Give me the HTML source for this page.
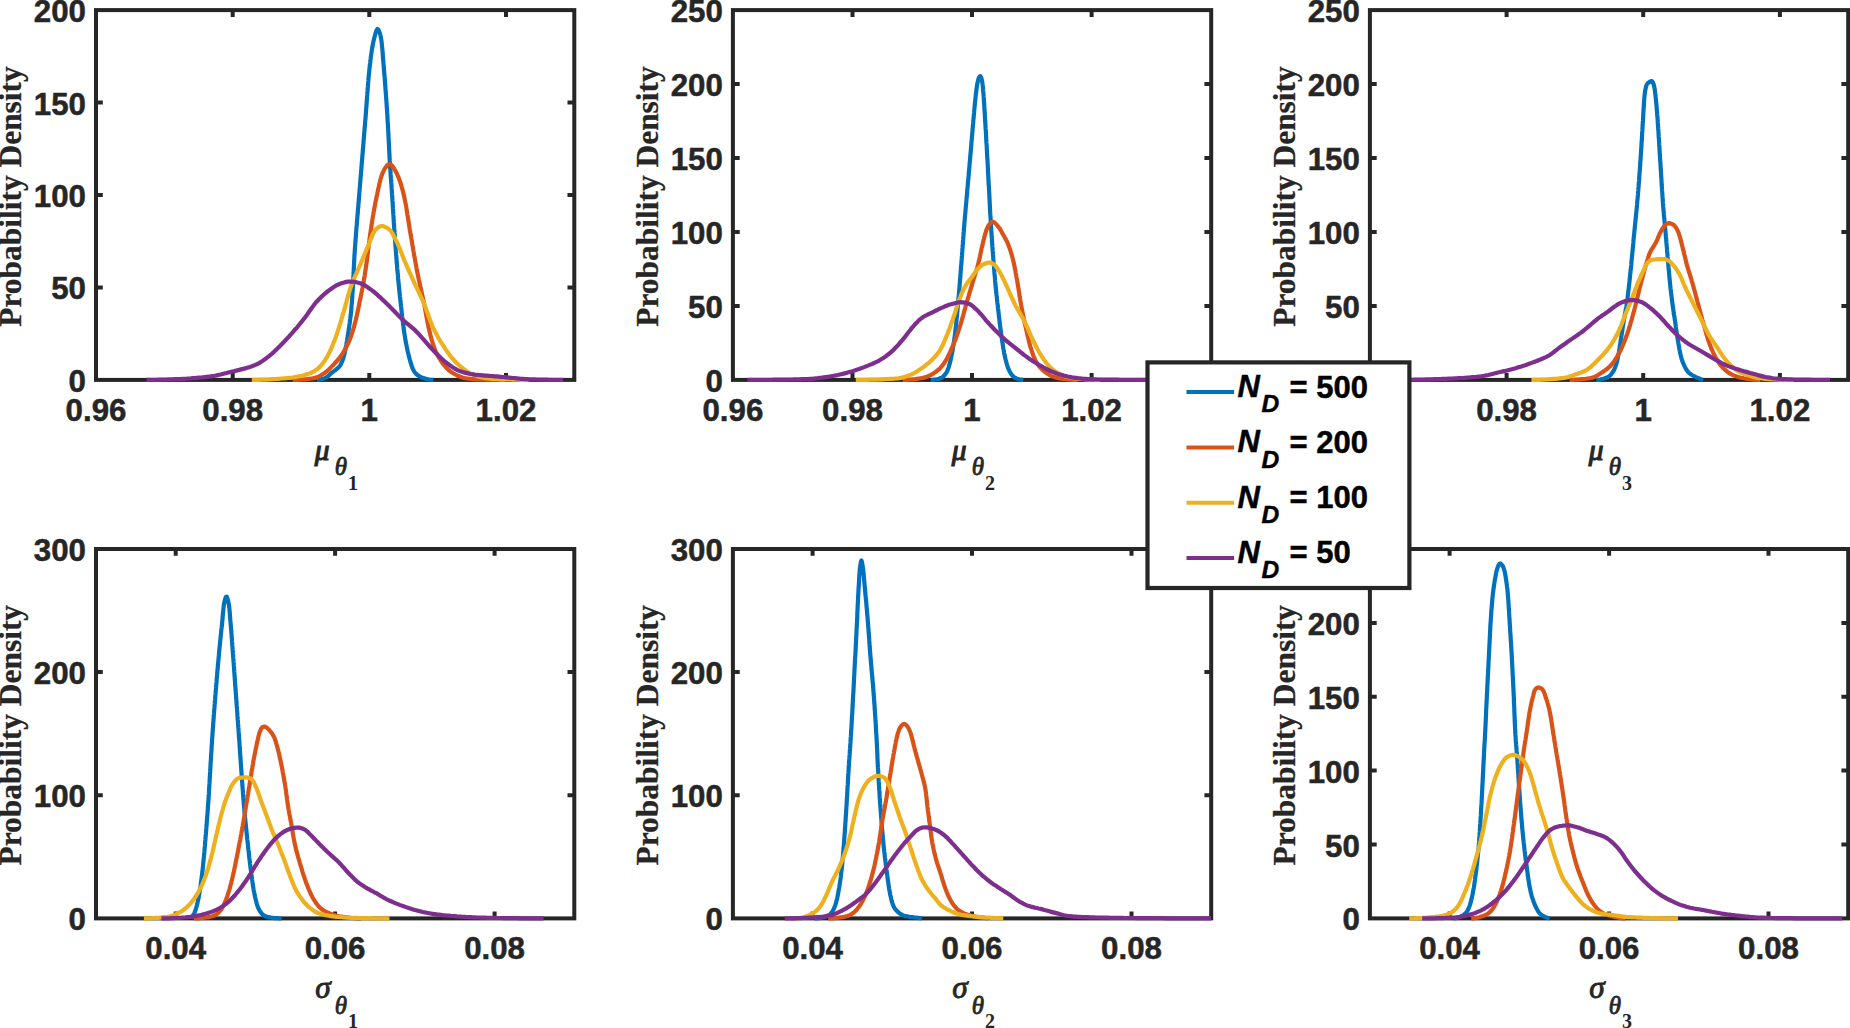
<!DOCTYPE html>
<html lang="en"><head><meta charset="utf-8"><title>Posterior probability densities</title>
<style>html,body{margin:0;padding:0;background:#fff}body{width:1850px;height:1028px;overflow:hidden}svg{display:block}</style>
</head><body>
<svg width="1850" height="1028" viewBox="0 0 1850 1028">
<rect width="1850" height="1028" fill="#fff"/>
<g id="panel1">
<rect x="96.0" y="10.1" width="478.3" height="369.8" fill="#fff" stroke="#262626" stroke-width="4.0"/>
<path d="M232.7 379.9v-6.8M232.7 10.1v6.8M369.3 379.9v-6.8M369.3 10.1v6.8M506.0 379.9v-6.8M506.0 10.1v6.8M96.0 287.4h6.8M574.3 287.4h-6.8M96.0 195.0h6.8M574.3 195.0h-6.8M96.0 102.6h6.8M574.3 102.6h-6.8" stroke="#262626" stroke-width="4.0" fill="none"/>
<g font-family="Liberation Sans, sans-serif" font-weight="bold" font-size="31.25" fill="#262626" stroke="#262626" stroke-width="0.5">
<text x="96.0" y="420.6" text-anchor="middle">0.96</text>
<text x="232.7" y="420.6" text-anchor="middle">0.98</text>
<text x="369.3" y="420.6" text-anchor="middle">1</text>
<text x="506.0" y="420.6" text-anchor="middle">1.02</text>
<text x="85.9" y="391.9" text-anchor="end">0</text>
<text x="85.9" y="299.4" text-anchor="end">50</text>
<text x="85.9" y="207.0" text-anchor="end">100</text>
<text x="85.9" y="114.6" text-anchor="end">150</text>
<text x="85.9" y="22.1" text-anchor="end">200</text>
</g>
<text transform="translate(21.3 196.5) rotate(-90)" text-anchor="middle" font-family="Liberation Serif, serif" font-weight="bold" font-size="31.45" fill="#262626" stroke="#262626" stroke-width="0.25">Probability Density</text>
<text font-family="Liberation Serif, serif" fill="#262626"><tspan x="314.8" y="459.9" font-size="29.3" font-style="italic" stroke="#262626" stroke-width="1.2">μ</tspan><tspan x="334.8" y="475.1" font-size="25" font-style="italic" stroke="#262626" stroke-width="0.8">θ</tspan><tspan x="348.0" y="489.5" font-size="20" font-weight="bold">1</tspan></text>
<path d="M316.9 379.9 319.0 379.7 321.1 379.3 323.0 378.8 324.8 378.1 326.5 377.3 328.1 376.1 329.6 374.7 331.1 373.3 332.7 372.1 334.3 370.9 335.9 369.7 337.5 368.4 339.0 367.0 340.2 365.5 341.1 363.8 341.9 361.9 342.7 360.0 343.3 358.1 343.9 356.1 344.4 354.2 344.8 352.3 345.3 350.3 345.7 348.3 346.0 346.3 346.4 344.3 346.7 342.4 347.1 340.4 347.4 338.4 347.7 336.4 348.0 334.5 348.3 332.5 348.6 330.5 348.9 328.5 349.2 326.5 349.5 324.5 349.8 322.5 350.0 320.5 350.3 318.5 350.5 316.5 350.8 314.6 351.0 312.6 351.2 310.6 351.4 308.6 351.5 306.6 351.7 304.6 351.9 302.6 352.0 300.6 352.2 298.6 352.3 296.6 352.4 294.6 352.5 292.6 352.7 290.6 352.8 288.6 352.9 286.6 353.0 284.6 353.1 282.6 353.2 280.6 353.3 278.5 353.4 276.5 353.5 274.5 353.6 272.5 353.7 270.5 353.8 268.5 353.9 266.5 354.0 264.5 354.1 262.5 354.2 260.5 354.3 258.5 354.4 256.5 354.5 254.5 354.7 252.5 354.8 250.5 354.9 248.5 355.1 246.5 355.2 244.5 355.4 242.5 355.5 240.5 355.7 238.5 355.8 236.5 356.0 234.5 356.1 232.5 356.3 230.5 356.4 228.5 356.6 226.5 356.8 224.5 356.9 222.5 357.1 220.5 357.3 218.5 357.4 216.5 357.6 214.5 357.8 212.5 357.9 210.5 358.1 208.5 358.3 206.5 358.4 204.5 358.6 202.5 358.8 200.5 358.9 198.5 359.1 196.5 359.2 194.5 359.4 192.5 359.6 190.5 359.7 188.5 359.9 186.5 360.0 184.5 360.2 182.5 360.4 180.5 360.5 178.5 360.7 176.5 360.9 174.5 361.0 172.5 361.2 170.5 361.4 168.5 361.5 166.5 361.7 164.5 361.8 162.5 362.0 160.5 362.2 158.5 362.3 156.5 362.5 154.5 362.7 152.5 362.8 150.5 363.0 148.5 363.2 146.5 363.3 144.5 363.5 142.5 363.6 140.5 363.8 138.5 364.0 136.5 364.1 134.5 364.3 132.5 364.5 130.5 364.6 128.5 364.8 126.5 365.0 124.5 365.1 122.5 365.3 120.5 365.5 118.5 365.6 116.5 365.8 114.5 365.9 112.5 366.1 110.5 366.2 108.5 366.4 106.5 366.5 104.5 366.7 102.5 366.8 100.5 367.0 98.5 367.1 96.5 367.3 94.4 367.4 92.4 367.6 90.4 367.7 88.4 367.9 86.4 368.0 84.4 368.2 82.4 368.4 80.4 368.5 78.4 368.7 76.4 368.9 74.4 369.1 72.5 369.3 70.5 369.5 68.5 369.7 66.5 369.9 64.5 370.2 62.5 370.4 60.5 370.7 58.5 370.9 56.5 371.2 54.5 371.5 52.5 371.8 50.5 372.1 48.5 372.5 46.5 372.8 44.6 373.2 42.6 373.6 40.6 374.1 38.7 374.6 36.8 375.2 34.5 375.9 32.0 376.7 30.0 377.5 29.0 378.3 29.5 379.1 31.3 380.0 33.7 380.6 36.1 381.0 38.0 381.3 40.0 381.6 41.9 381.8 43.9 382.0 45.9 382.2 47.9 382.4 49.9 382.6 51.9 382.7 54.0 382.9 56.0 383.0 58.0 383.2 60.0 383.3 62.0 383.5 64.0 383.7 66.0 383.8 68.0 384.0 70.0 384.2 72.0 384.3 74.0 384.5 76.0 384.7 78.0 384.8 80.0 385.0 82.0 385.1 84.0 385.3 86.0 385.4 88.0 385.6 90.0 385.7 92.0 385.9 94.1 386.0 96.1 386.2 98.1 386.3 100.1 386.5 102.1 386.6 104.1 386.7 106.1 386.9 108.1 387.0 110.1 387.1 112.1 387.3 114.1 387.4 116.1 387.5 118.1 387.6 120.1 387.7 122.1 387.9 124.1 388.0 126.1 388.1 128.1 388.2 130.1 388.3 132.1 388.4 134.1 388.5 136.1 388.6 138.1 388.7 140.1 388.8 142.1 388.9 144.1 389.0 146.1 389.1 148.1 389.2 150.1 389.3 152.1 389.4 154.1 389.5 156.1 389.6 158.2 389.7 160.2 389.9 162.2 390.0 164.2 390.1 166.2 390.2 168.2 390.4 170.2 390.5 172.2 390.6 174.2 390.8 176.2 390.9 178.2 391.1 180.2 391.2 182.2 391.4 184.2 391.5 186.2 391.6 188.2 391.8 190.2 391.9 192.2 392.0 194.2 392.2 196.2 392.3 198.2 392.4 200.2 392.6 202.2 392.7 204.2 392.8 206.2 392.9 208.2 393.1 210.2 393.2 212.2 393.3 214.2 393.5 216.2 393.6 218.2 393.7 220.2 393.8 222.2 394.0 224.2 394.1 226.2 394.2 228.2 394.4 230.2 394.5 232.2 394.7 234.2 394.8 236.2 394.9 238.2 395.1 240.2 395.2 242.2 395.4 244.2 395.5 246.2 395.7 248.2 395.8 250.2 396.0 252.2 396.1 254.2 396.3 256.3 396.4 258.3 396.6 260.3 396.7 262.3 396.9 264.3 397.1 266.3 397.2 268.2 397.4 270.2 397.6 272.2 397.8 274.2 398.0 276.2 398.1 278.2 398.3 280.2 398.5 282.2 398.7 284.2 398.9 286.2 399.1 288.2 399.3 290.2 399.5 292.2 399.7 294.2 399.9 296.2 400.2 298.2 400.4 300.2 400.6 302.2 400.8 304.2 401.0 306.2 401.3 308.2 401.5 310.2 401.7 312.2 401.9 314.2 402.1 316.2 402.4 318.2 402.6 320.2 402.9 322.1 403.1 324.1 403.4 326.1 403.6 328.1 403.9 330.1 404.2 332.1 404.5 334.1 404.8 336.0 405.1 338.0 405.4 340.0 405.8 342.0 406.2 344.0 406.6 345.9 407.0 347.9 407.4 349.9 407.8 351.8 408.3 353.8 408.8 355.7 409.3 357.7 409.8 359.6 410.4 361.6 411.0 363.7 411.6 365.7 412.3 367.6 413.1 369.5 414.0 371.1 415.0 372.6 416.3 374.0 417.9 375.3 419.7 376.5 421.6 377.4 423.4 378.0 425.2 378.6 427.2 379.1 429.1 379.5 431.2 379.8 433.3 379.9" fill="none" stroke="#0072BD" stroke-width="4.2" stroke-linejoin="round"/>
<path d="M292.8 379.9 294.9 379.9 297.0 379.8 299.1 379.7 301.1 379.6 303.1 379.5 305.1 379.3 307.1 379.1 309.1 378.8 311.0 378.5 312.9 378.3 314.8 377.9 316.7 377.4 318.5 376.6 320.4 375.7 322.1 374.6 323.8 373.5 325.4 372.4 327.0 371.1 328.5 369.8 330.0 368.4 331.4 366.9 332.8 365.4 334.2 364.0 335.5 362.5 336.9 361.0 338.2 359.5 339.5 357.9 340.7 356.3 341.9 354.7 342.9 353.0 343.9 351.3 344.9 349.6 345.9 347.8 346.8 346.0 347.7 344.2 348.6 342.3 349.4 340.5 350.2 338.6 350.9 336.7 351.5 334.9 352.1 333.0 352.7 331.1 353.3 329.2 353.9 327.3 354.4 325.3 354.9 323.4 355.4 321.4 355.9 319.5 356.3 317.5 356.8 315.5 357.2 313.6 357.7 311.6 358.1 309.6 358.5 307.6 358.9 305.7 359.3 303.7 359.7 301.7 360.1 299.7 360.5 297.8 360.9 295.8 361.3 293.8 361.7 291.9 362.1 289.9 362.5 287.9 362.8 286.0 363.2 284.0 363.6 282.0 363.9 280.0 364.2 278.0 364.6 276.1 364.9 274.1 365.2 272.1 365.5 270.1 365.8 268.1 366.1 266.1 366.4 264.1 366.7 262.2 366.9 260.2 367.2 258.2 367.4 256.2 367.7 254.2 367.9 252.2 368.1 250.2 368.4 248.2 368.6 246.2 368.9 244.2 369.1 242.2 369.4 240.2 369.6 238.2 369.9 236.2 370.2 234.3 370.5 232.3 370.8 230.3 371.1 228.3 371.4 226.3 371.7 224.3 372.0 222.3 372.3 220.4 372.6 218.4 372.9 216.4 373.3 214.4 373.6 212.4 374.0 210.4 374.3 208.5 374.7 206.5 375.1 204.5 375.4 202.5 375.8 200.6 376.2 198.6 376.6 196.6 377.1 194.7 377.5 192.7 377.9 190.7 378.3 188.7 378.8 186.7 379.2 184.6 379.7 182.6 380.2 180.6 380.7 178.6 381.3 176.7 381.9 174.8 382.6 173.0 383.4 171.3 384.2 169.6 385.4 167.7 386.8 165.8 388.3 164.4 389.7 164.0 391.1 164.7 392.5 166.2 393.8 168.1 395.0 170.2 396.0 172.1 396.9 173.8 397.7 175.6 398.5 177.4 399.2 179.3 399.9 181.2 400.6 183.1 401.2 185.1 401.7 187.0 402.3 189.0 402.8 191.0 403.3 193.0 403.8 194.9 404.2 196.8 404.6 198.8 405.0 200.7 405.4 202.7 405.8 204.7 406.2 206.7 406.5 208.6 406.8 210.6 407.1 212.6 407.4 214.6 407.8 216.6 408.1 218.6 408.4 220.6 408.7 222.6 409.0 224.6 409.3 226.5 409.6 228.5 409.9 230.5 410.3 232.5 410.6 234.5 411.0 236.5 411.3 238.4 411.7 240.4 412.0 242.4 412.3 244.4 412.7 246.4 413.0 248.3 413.3 250.3 413.7 252.3 414.0 254.3 414.4 256.2 414.7 258.2 415.1 260.2 415.4 262.2 415.8 264.2 416.2 266.1 416.5 268.1 416.9 270.1 417.3 272.0 417.7 274.0 418.1 276.0 418.5 277.9 418.9 279.9 419.4 281.9 419.8 283.8 420.2 285.8 420.6 287.8 421.1 289.7 421.5 291.7 421.9 293.6 422.3 295.6 422.8 297.6 423.2 299.5 423.6 301.5 424.0 303.5 424.4 305.4 424.8 307.4 425.1 309.4 425.5 311.4 425.9 313.3 426.2 315.3 426.6 317.3 427.0 319.3 427.3 321.3 427.7 323.2 428.1 325.2 428.5 327.2 429.0 329.1 429.4 331.1 429.9 333.0 430.4 335.0 430.9 336.9 431.4 338.9 432.0 340.8 432.5 342.8 433.2 344.7 433.8 346.6 434.5 348.4 435.2 350.3 436.0 352.1 436.9 353.9 437.8 355.7 438.8 357.5 439.9 359.2 441.0 360.9 442.1 362.6 443.3 364.1 444.6 365.7 445.9 367.3 447.4 368.8 448.8 370.2 450.4 371.4 452.0 372.5 453.6 373.5 455.4 374.5 457.2 375.5 459.1 376.3 461.0 377.1 463.0 377.8 464.9 378.2 466.9 378.5 468.8 378.7 470.8 378.9 472.8 379.1 474.8 379.2 476.8 379.3 478.9 379.4 480.9 379.5 482.9 379.5 484.9 379.6 486.9 379.6 488.9 379.7 490.9 379.7 492.9 379.8 495.0 379.8 497.0 379.8 499.0 379.9 501.0 379.9 503.0 379.9 505.0 379.9" fill="none" stroke="#D95319" stroke-width="4.2" stroke-linejoin="round"/>
<path d="M251.8 379.9 253.8 379.9 255.9 379.9 257.9 379.8 259.9 379.8 261.9 379.7 264.0 379.6 266.0 379.6 268.0 379.5 270.0 379.3 272.0 379.2 274.0 379.1 276.0 379.0 278.0 378.8 280.0 378.7 282.0 378.5 284.0 378.3 286.0 378.2 288.0 378.0 290.0 377.8 292.0 377.6 294.0 377.3 296.0 376.9 298.0 376.5 300.0 376.1 302.0 375.7 303.9 375.2 305.8 374.6 307.7 374.1 309.6 373.4 311.5 372.5 313.4 371.6 315.1 370.6 316.7 369.5 318.2 368.3 319.7 366.9 321.1 365.4 322.4 363.8 323.7 362.1 324.8 360.5 325.9 358.8 326.9 357.2 327.9 355.4 328.8 353.6 329.7 351.8 330.6 350.0 331.4 348.1 332.2 346.2 333.0 344.3 333.7 342.4 334.5 340.6 335.2 338.7 335.9 336.8 336.5 334.9 337.2 333.0 337.8 331.1 338.4 329.2 339.0 327.3 339.6 325.3 340.2 323.4 340.8 321.5 341.4 319.5 341.9 317.6 342.5 315.7 343.1 313.7 343.7 311.8 344.2 309.9 344.8 307.9 345.3 306.0 345.8 304.0 346.4 302.1 346.9 300.1 347.4 298.2 348.0 296.2 348.5 294.3 349.1 292.4 349.7 290.5 350.3 288.5 350.9 286.6 351.6 284.8 352.3 282.9 353.0 281.0 353.8 279.2 354.6 277.3 355.4 275.5 356.3 273.6 357.1 271.8 357.9 269.9 358.7 268.1 359.6 266.2 360.3 264.4 361.1 262.5 361.9 260.7 362.7 258.8 363.4 257.0 364.2 255.1 365.0 253.2 365.8 251.4 366.6 249.5 367.4 247.7 368.2 245.8 369.0 244.0 369.8 242.1 370.5 240.1 371.2 238.0 372.0 236.1 372.8 234.2 373.7 232.4 374.7 230.8 375.8 229.4 377.3 228.1 379.1 226.8 381.0 226.1 382.8 226.1 384.8 226.8 386.8 227.7 388.5 228.8 389.9 230.0 391.1 231.4 392.2 233.0 393.3 234.9 394.3 236.8 395.2 238.7 396.1 240.6 397.0 242.4 397.8 244.2 398.6 246.0 399.4 247.9 400.2 249.7 400.9 251.6 401.7 253.5 402.4 255.4 403.1 257.3 403.8 259.2 404.6 261.0 405.4 262.9 406.2 264.7 407.0 266.6 407.8 268.4 408.6 270.3 409.5 272.1 410.3 273.9 411.2 275.8 412.0 277.6 412.8 279.4 413.7 281.2 414.5 283.1 415.4 284.9 416.2 286.7 417.1 288.6 417.9 290.4 418.8 292.2 419.6 294.0 420.5 295.9 421.3 297.7 422.2 299.5 423.0 301.4 423.8 303.2 424.5 305.1 425.3 306.9 426.0 308.8 426.7 310.7 427.4 312.6 428.1 314.5 428.7 316.4 429.4 318.3 430.1 320.2 430.8 322.1 431.6 324.0 432.3 325.8 433.1 327.6 434.0 329.5 434.9 331.3 435.8 333.0 436.8 334.8 437.7 336.6 438.7 338.3 439.8 340.1 440.8 341.8 441.9 343.5 442.9 345.2 444.0 346.9 445.1 348.6 446.2 350.3 447.4 352.0 448.6 353.6 449.8 355.2 451.0 356.8 452.3 358.3 453.7 359.8 455.0 361.3 456.4 362.8 457.9 364.2 459.4 365.5 460.9 366.8 462.5 368.1 464.1 369.4 465.7 370.7 467.4 371.8 469.1 372.8 470.8 373.6 472.7 374.4 474.5 375.1 476.5 375.8 478.4 376.4 480.4 377.0 482.4 377.5 484.4 377.9 486.4 378.2 488.4 378.5 490.3 378.6 492.3 378.8 494.3 378.9 496.3 379.0 498.4 379.1 500.4 379.2 502.4 379.3 504.4 379.3 506.4 379.4 508.5 379.5 510.5 379.5 512.5 379.6 514.5 379.6 516.5 379.7 518.5 379.7 520.5 379.8 522.6 379.8 524.6 379.8 526.6 379.9 528.6 379.9" fill="none" stroke="#EDB120" stroke-width="4.2" stroke-linejoin="round"/>
<path d="M146.5 379.9 148.5 379.9 150.5 379.9 152.5 379.9 154.6 379.8 156.6 379.8 158.6 379.7 160.6 379.7 162.6 379.6 164.6 379.6 166.6 379.5 168.6 379.4 170.6 379.4 172.6 379.3 174.7 379.2 176.7 379.1 178.7 379.1 180.7 379.0 182.7 378.9 184.7 378.8 186.7 378.7 188.7 378.5 190.7 378.4 192.7 378.2 194.8 378.1 196.8 377.9 198.8 377.7 200.8 377.5 202.8 377.3 204.8 377.1 206.8 376.9 208.8 376.7 210.7 376.4 212.7 376.1 214.7 375.8 216.7 375.4 218.6 374.9 220.6 374.5 222.6 374.0 224.5 373.5 226.5 373.0 228.4 372.5 230.4 372.0 232.3 371.5 234.3 371.1 236.3 370.6 238.3 370.1 240.2 369.6 242.2 369.1 244.2 368.6 246.1 368.1 248.1 367.5 250.0 366.9 251.9 366.2 253.7 365.6 255.5 364.8 257.3 364.0 259.1 363.1 260.8 362.1 262.5 360.9 264.2 359.8 265.8 358.6 267.4 357.4 269.0 356.1 270.5 354.9 272.1 353.6 273.6 352.2 275.0 350.8 276.5 349.4 277.9 348.0 279.4 346.6 280.8 345.1 282.2 343.7 283.6 342.2 285.0 340.8 286.4 339.3 287.7 337.8 289.1 336.4 290.4 334.9 291.8 333.4 293.1 331.9 294.4 330.3 295.8 328.8 297.1 327.3 298.4 325.7 299.6 324.2 300.9 322.6 302.2 321.1 303.4 319.5 304.7 317.9 305.9 316.3 307.1 314.7 308.2 313.0 309.4 311.3 310.5 309.7 311.7 308.0 312.9 306.4 314.1 304.8 315.3 303.2 316.6 301.7 318.0 300.2 319.4 298.8 320.8 297.4 322.3 296.0 323.8 294.6 325.3 293.3 326.9 292.0 328.5 290.8 330.1 289.6 331.7 288.5 333.4 287.3 335.1 286.2 336.9 285.2 338.7 284.3 340.6 283.6 342.4 283.0 344.4 282.4 346.4 281.9 348.4 281.6 350.4 281.5 352.4 281.6 354.4 281.9 356.4 282.3 358.4 282.7 360.2 283.2 362.1 284.0 363.9 284.9 365.6 285.9 367.4 287.1 369.0 288.3 370.7 289.4 372.3 290.6 373.9 291.8 375.4 293.1 376.9 294.4 378.4 295.8 379.9 297.1 381.4 298.5 382.8 299.9 384.3 301.3 385.8 302.7 387.2 304.1 388.7 305.5 390.1 306.9 391.5 308.4 392.9 309.8 394.3 311.2 395.7 312.7 397.1 314.1 398.5 315.6 399.9 317.0 401.4 318.4 402.8 319.8 404.3 321.2 405.8 322.5 407.4 323.8 409.0 325.0 410.5 326.3 412.1 327.6 413.6 328.9 415.1 330.3 416.5 331.7 417.9 333.1 419.3 334.6 420.6 336.1 421.9 337.6 423.3 339.1 424.6 340.6 425.9 342.1 427.2 343.7 428.5 345.2 429.9 346.7 431.3 348.2 432.6 349.6 434.0 351.1 435.5 352.5 436.9 354.0 438.3 355.4 439.7 356.8 441.2 358.3 442.7 359.6 444.2 361.0 445.7 362.3 447.3 363.5 448.9 364.6 450.5 365.8 452.2 367.0 453.9 368.1 455.7 369.1 457.5 370.1 459.3 370.9 461.1 371.5 463.0 372.1 464.9 372.6 466.9 373.1 468.9 373.6 470.9 374.0 472.9 374.3 474.9 374.6 476.9 374.8 478.9 375.0 480.9 375.2 482.9 375.4 484.9 375.6 486.9 375.7 488.9 375.8 490.9 376.0 492.9 376.1 494.9 376.3 497.0 376.4 499.0 376.6 501.0 376.8 503.0 377.0 505.0 377.2 507.0 377.4 509.0 377.6 511.0 377.8 513.0 378.0 515.0 378.2 517.0 378.4 519.0 378.6 521.0 378.8 523.0 378.9 525.0 379.1 527.0 379.2 529.0 379.3 531.0 379.3 533.0 379.4 535.0 379.4 537.0 379.5 539.1 379.6 541.1 379.6 543.1 379.7 545.1 379.7 547.1 379.7 549.1 379.8 551.1 379.8 553.1 379.8 555.1 379.9 557.2 379.9 559.2 379.9 561.2 379.9 563.2 379.9" fill="none" stroke="#7E2F8E" stroke-width="4.2" stroke-linejoin="round"/>
</g>
<g id="panel2">
<rect x="732.9" y="10.1" width="478.3" height="369.8" fill="#fff" stroke="#262626" stroke-width="4.0"/>
<path d="M852.5 379.9v-6.8M852.5 10.1v6.8M972.0 379.9v-6.8M972.0 10.1v6.8M1091.6 379.9v-6.8M1091.6 10.1v6.8M732.9 305.9h6.8M1211.2 305.9h-6.8M732.9 232.0h6.8M1211.2 232.0h-6.8M732.9 158.0h6.8M1211.2 158.0h-6.8M732.9 84.1h6.8M1211.2 84.1h-6.8" stroke="#262626" stroke-width="4.0" fill="none"/>
<g font-family="Liberation Sans, sans-serif" font-weight="bold" font-size="31.25" fill="#262626" stroke="#262626" stroke-width="0.5">
<text x="732.9" y="420.6" text-anchor="middle">0.96</text>
<text x="852.5" y="420.6" text-anchor="middle">0.98</text>
<text x="972.0" y="420.6" text-anchor="middle">1</text>
<text x="1091.6" y="420.6" text-anchor="middle">1.02</text>
<text x="722.8" y="391.9" text-anchor="end">0</text>
<text x="722.8" y="317.9" text-anchor="end">50</text>
<text x="722.8" y="244.0" text-anchor="end">100</text>
<text x="722.8" y="170.0" text-anchor="end">150</text>
<text x="722.8" y="96.1" text-anchor="end">200</text>
<text x="722.8" y="22.1" text-anchor="end">250</text>
</g>
<text transform="translate(658.2 196.5) rotate(-90)" text-anchor="middle" font-family="Liberation Serif, serif" font-weight="bold" font-size="31.45" fill="#262626" stroke="#262626" stroke-width="0.25">Probability Density</text>
<text font-family="Liberation Serif, serif" fill="#262626"><tspan x="951.8" y="459.9" font-size="29.3" font-style="italic" stroke="#262626" stroke-width="1.2">μ</tspan><tspan x="971.8" y="475.1" font-size="25" font-style="italic" stroke="#262626" stroke-width="0.8">θ</tspan><tspan x="985.0" y="489.5" font-size="20" font-weight="bold">2</tspan></text>
<path d="M930.7 379.9 932.9 379.8 935.1 379.5 937.0 379.2 938.9 378.7 940.6 378.1 942.3 377.3 943.9 375.9 945.3 374.2 946.4 372.6 947.3 370.9 948.0 369.1 948.7 367.2 949.3 365.2 949.8 363.2 950.3 361.2 950.8 359.2 951.2 357.2 951.6 355.3 952.0 353.3 952.4 351.3 952.8 349.3 953.1 347.3 953.4 345.4 953.7 343.4 954.0 341.4 954.3 339.4 954.6 337.4 954.8 335.4 955.1 333.4 955.3 331.4 955.5 329.4 955.8 327.4 956.0 325.4 956.2 323.4 956.4 321.4 956.6 319.4 956.8 317.4 957.0 315.4 957.2 313.4 957.4 311.4 957.5 309.4 957.7 307.4 957.9 305.4 958.1 303.4 958.2 301.4 958.4 299.3 958.6 297.3 958.8 295.3 959.0 293.3 959.1 291.3 959.3 289.3 959.5 287.3 959.6 285.3 959.8 283.3 959.9 281.3 960.1 279.3 960.3 277.3 960.4 275.3 960.6 273.3 960.7 271.3 960.9 269.3 961.0 267.3 961.2 265.3 961.4 263.3 961.5 261.3 961.7 259.2 961.8 257.2 962.0 255.2 962.1 253.2 962.3 251.2 962.4 249.2 962.6 247.2 962.7 245.2 962.9 243.2 963.0 241.2 963.2 239.2 963.3 237.2 963.5 235.2 963.6 233.2 963.8 231.2 963.9 229.2 964.1 227.2 964.3 225.1 964.4 223.1 964.6 221.1 964.8 219.1 964.9 217.1 965.1 215.1 965.3 213.1 965.5 211.1 965.6 209.1 965.8 207.1 966.0 205.1 966.2 203.1 966.4 201.1 966.5 199.1 966.7 197.1 966.9 195.1 967.1 193.1 967.2 191.1 967.4 189.1 967.6 187.1 967.8 185.1 967.9 183.1 968.1 181.1 968.3 179.1 968.5 177.1 968.7 175.0 968.8 173.0 969.0 171.0 969.2 169.0 969.4 167.0 969.5 165.0 969.7 163.0 969.9 161.0 970.1 159.0 970.2 157.0 970.4 155.0 970.6 153.0 970.8 151.0 970.9 149.0 971.1 147.0 971.3 145.0 971.4 143.0 971.6 141.0 971.8 139.0 971.9 137.0 972.1 135.0 972.3 133.0 972.5 131.0 972.6 128.9 972.8 126.9 973.0 124.9 973.2 122.9 973.3 120.9 973.5 118.9 973.7 116.9 973.9 114.9 974.1 112.9 974.2 110.9 974.4 108.9 974.6 106.9 974.8 104.9 975.0 102.9 975.2 100.9 975.4 98.9 975.6 96.9 975.8 94.9 976.1 92.9 976.3 90.9 976.6 88.9 976.8 86.9 977.1 84.9 977.5 82.9 977.9 81.0 978.5 78.9 979.4 76.7 980.4 76.1 981.3 77.9 981.9 80.2 982.3 82.2 982.5 84.2 982.8 86.2 983.0 88.2 983.1 90.2 983.3 92.2 983.5 94.2 983.6 96.2 983.8 98.2 983.9 100.2 984.0 102.3 984.2 104.3 984.3 106.3 984.4 108.3 984.5 110.3 984.7 112.3 984.8 114.3 984.9 116.3 985.0 118.3 985.1 120.3 985.3 122.3 985.4 124.3 985.5 126.4 985.6 128.4 985.8 130.4 985.9 132.4 986.0 134.4 986.1 136.4 986.2 138.4 986.3 140.4 986.4 142.4 986.6 144.4 986.7 146.4 986.8 148.4 986.9 150.5 987.0 152.5 987.1 154.5 987.2 156.5 987.3 158.5 987.5 160.5 987.6 162.5 987.7 164.5 987.8 166.5 987.9 168.5 988.0 170.5 988.1 172.6 988.2 174.6 988.3 176.6 988.4 178.6 988.5 180.6 988.6 182.6 988.7 184.6 988.9 186.6 989.0 188.6 989.1 190.6 989.2 192.6 989.3 194.6 989.4 196.7 989.5 198.7 989.6 200.7 989.7 202.7 989.8 204.7 989.9 206.7 990.0 208.7 990.1 210.7 990.2 212.7 990.3 214.7 990.5 216.7 990.6 218.8 990.7 220.8 990.8 222.8 990.9 224.8 991.1 226.8 991.2 228.8 991.3 230.8 991.4 232.8 991.6 234.8 991.7 236.8 991.9 238.8 992.0 240.8 992.1 242.8 992.3 244.8 992.4 246.9 992.6 248.9 992.7 250.9 992.9 252.9 993.0 254.9 993.2 256.9 993.3 258.9 993.5 260.9 993.6 262.9 993.8 264.9 994.0 266.9 994.1 268.9 994.3 270.9 994.4 272.9 994.6 274.9 994.8 276.9 995.0 278.9 995.1 280.9 995.3 282.9 995.5 285.0 995.7 287.0 995.9 289.0 996.1 291.0 996.3 293.0 996.5 295.0 996.8 297.0 997.0 299.0 997.2 301.0 997.4 303.0 997.7 305.0 997.9 307.0 998.1 309.0 998.4 310.9 998.6 312.9 998.8 314.9 999.0 316.9 999.3 318.9 999.5 320.9 999.7 322.9 1000.0 324.9 1000.2 326.9 1000.5 328.9 1000.7 330.9 1001.0 332.9 1001.3 334.9 1001.6 336.9 1001.9 338.9 1002.2 340.9 1002.5 342.9 1002.8 344.9 1003.1 346.9 1003.4 348.9 1003.8 350.8 1004.1 352.8 1004.5 354.8 1005.0 356.8 1005.4 358.7 1005.9 360.6 1006.4 362.6 1007.0 364.6 1007.6 366.5 1008.3 368.5 1009.1 370.3 1010.0 372.0 1011.0 373.7 1012.3 375.5 1013.8 376.9 1015.3 377.9 1017.0 378.6 1018.9 379.3 1021.0 379.7 1023.2 379.9" fill="none" stroke="#0072BD" stroke-width="4.2" stroke-linejoin="round"/>
<path d="M902.8 379.9 904.9 379.9 907.0 379.8 909.0 379.7 911.0 379.5 913.0 379.3 915.0 379.1 917.0 378.8 919.0 378.5 920.9 378.2 922.9 377.9 924.8 377.4 926.7 376.8 928.6 376.0 930.5 375.1 932.3 374.1 934.0 373.1 935.6 372.0 937.2 370.7 938.8 369.4 940.3 367.9 941.6 366.4 942.9 364.9 944.1 363.3 945.1 361.6 946.2 359.9 947.2 358.1 948.1 356.3 949.0 354.4 949.9 352.6 950.7 350.8 951.5 348.9 952.3 347.1 953.1 345.2 953.9 343.4 954.6 341.5 955.4 339.6 956.1 337.7 956.8 335.8 957.4 333.9 958.1 332.0 958.7 330.1 959.4 328.1 960.0 326.2 960.6 324.3 961.2 322.4 961.7 320.4 962.3 318.5 962.8 316.6 963.4 314.6 963.9 312.7 964.4 310.7 965.0 308.8 965.5 306.8 966.0 304.9 966.6 302.9 967.2 301.0 967.7 299.0 968.3 297.1 968.9 295.2 969.4 293.2 970.0 291.3 970.6 289.4 971.2 287.4 971.8 285.5 972.3 283.6 972.9 281.6 973.5 279.7 974.1 277.8 974.7 275.9 975.3 273.9 975.9 272.0 976.5 270.1 977.1 268.1 977.6 266.2 978.1 264.3 978.6 262.3 979.1 260.3 979.5 258.4 980.0 256.4 980.4 254.4 980.8 252.4 981.2 250.5 981.6 248.5 982.1 246.5 982.6 244.6 983.0 242.6 983.5 240.6 984.0 238.7 984.5 236.6 985.0 234.6 985.6 232.6 986.2 230.6 986.9 228.8 987.7 227.0 988.6 225.3 990.1 223.5 991.7 222.1 993.2 221.9 994.9 222.9 996.5 224.6 997.8 226.1 999.1 227.7 1000.2 229.3 1001.2 231.1 1002.2 232.9 1003.2 234.7 1004.2 236.4 1005.2 238.2 1006.1 240.0 1007.1 241.8 1007.9 243.7 1008.6 245.5 1009.3 247.4 1010.0 249.3 1010.6 251.2 1011.2 253.2 1011.8 255.1 1012.3 257.1 1012.8 259.0 1013.3 261.0 1013.8 262.9 1014.2 264.9 1014.6 266.9 1015.0 268.9 1015.4 270.8 1015.7 272.8 1016.1 274.8 1016.4 276.8 1016.8 278.8 1017.2 280.8 1017.5 282.8 1017.8 284.8 1018.2 286.7 1018.5 288.7 1018.8 290.7 1019.1 292.7 1019.4 294.7 1019.7 296.7 1020.1 298.7 1020.4 300.7 1020.7 302.7 1021.1 304.7 1021.4 306.7 1021.8 308.6 1022.2 310.6 1022.6 312.6 1023.0 314.6 1023.4 316.6 1023.8 318.5 1024.2 320.5 1024.6 322.5 1025.1 324.5 1025.5 326.4 1026.0 328.4 1026.4 330.4 1026.9 332.3 1027.3 334.3 1027.7 336.3 1028.2 338.3 1028.7 340.2 1029.2 342.2 1029.7 344.1 1030.2 346.1 1030.8 348.0 1031.4 349.9 1032.0 351.8 1032.7 353.8 1033.4 355.7 1034.2 357.6 1035.0 359.4 1035.9 361.2 1036.9 363.0 1037.9 364.6 1039.1 366.2 1040.5 367.8 1041.9 369.3 1043.4 370.7 1044.9 371.9 1046.5 373.1 1048.3 374.3 1050.0 375.3 1051.8 376.1 1053.7 376.8 1055.6 377.4 1057.6 377.9 1059.6 378.4 1061.6 378.7 1063.6 379.0 1065.6 379.2 1067.6 379.4 1069.6 379.6 1071.6 379.7 1073.6 379.8 1075.7 379.9 1077.7 379.9" fill="none" stroke="#D95319" stroke-width="4.2" stroke-linejoin="round"/>
<path d="M855.8 379.9 857.9 379.9 859.9 379.9 862.0 379.9 864.0 379.8 866.0 379.8 868.1 379.8 870.1 379.7 872.1 379.7 874.1 379.6 876.2 379.6 878.2 379.5 880.2 379.4 882.2 379.3 884.2 379.2 886.2 379.1 888.2 379.0 890.2 378.9 892.1 378.8 894.1 378.7 896.1 378.5 898.1 378.4 900.1 378.0 902.1 377.6 904.0 377.1 906.0 376.5 907.9 375.8 909.8 375.1 911.6 374.4 913.4 373.5 915.2 372.5 916.9 371.4 918.6 370.3 920.3 369.2 922.0 368.1 923.6 366.9 925.2 365.7 926.8 364.4 928.4 363.1 929.9 361.8 931.4 360.4 932.8 359.0 934.2 357.5 935.6 356.0 936.9 354.5 938.1 352.9 939.3 351.2 940.3 349.6 941.3 347.8 942.2 346.0 943.1 344.2 943.9 342.4 944.7 340.5 945.5 338.6 946.3 336.7 947.1 334.9 947.8 333.0 948.5 331.1 949.3 329.2 950.0 327.3 950.6 325.5 951.3 323.5 952.0 321.6 952.7 319.7 953.3 317.8 954.0 315.9 954.6 314.0 955.2 312.1 955.8 310.2 956.4 308.2 957.0 306.3 957.6 304.4 958.3 302.5 958.9 300.6 959.6 298.7 960.4 296.8 961.1 294.9 961.9 293.0 962.7 291.2 963.6 289.4 964.5 287.6 965.5 285.9 966.5 284.2 967.7 282.5 968.9 280.9 970.1 279.3 971.3 277.6 972.5 276.0 973.7 274.3 974.9 272.7 976.1 271.1 977.3 269.5 978.7 268.1 980.2 266.6 981.8 265.3 983.4 264.3 985.3 263.5 987.3 262.8 989.2 262.5 991.2 262.9 993.1 263.9 994.7 265.0 996.0 266.4 997.2 268.0 998.4 269.8 999.4 271.6 1000.4 273.3 1001.4 275.1 1002.3 276.9 1003.2 278.7 1004.1 280.5 1005.0 282.4 1005.8 284.2 1006.7 286.0 1007.5 287.8 1008.3 289.7 1009.1 291.5 1009.9 293.4 1010.7 295.2 1011.5 297.1 1012.4 298.9 1013.2 300.8 1014.1 302.6 1014.9 304.4 1015.9 306.2 1016.9 307.9 1017.9 309.7 1018.9 311.4 1019.9 313.2 1020.9 314.9 1021.9 316.7 1022.9 318.4 1023.8 320.2 1024.7 322.0 1025.6 323.8 1026.4 325.7 1027.3 327.5 1028.1 329.4 1028.9 331.2 1029.7 333.1 1030.5 334.9 1031.3 336.8 1032.1 338.6 1033.0 340.4 1033.9 342.2 1034.8 344.0 1035.7 345.8 1036.7 347.6 1037.6 349.4 1038.6 351.2 1039.6 352.9 1040.6 354.7 1041.7 356.4 1042.8 358.0 1044.0 359.7 1045.2 361.3 1046.4 363.0 1047.7 364.6 1049.0 366.1 1050.4 367.5 1051.9 368.8 1053.4 370.1 1055.0 371.3 1056.7 372.4 1058.5 373.5 1060.3 374.4 1062.1 375.2 1064.0 375.9 1065.9 376.5 1067.9 377.1 1069.9 377.5 1071.8 377.8 1073.8 378.1 1075.8 378.4 1077.8 378.6 1079.8 378.8 1081.9 379.0 1083.9 379.2 1085.9 379.3 1087.9 379.5 1089.9 379.6 1091.9 379.7 1094.0 379.7 1096.0 379.8 1098.0 379.9 1100.0 379.9" fill="none" stroke="#EDB120" stroke-width="4.2" stroke-linejoin="round"/>
<path d="M747.6 379.9 749.6 379.9 751.6 379.9 753.7 379.9 755.7 379.9 757.7 379.9 759.7 379.9 761.7 379.9 763.7 379.8 765.7 379.8 767.8 379.8 769.8 379.8 771.8 379.8 773.8 379.7 775.8 379.7 777.8 379.7 779.8 379.7 781.8 379.6 783.8 379.6 785.9 379.6 787.9 379.5 789.9 379.5 791.9 379.5 793.9 379.4 795.9 379.4 797.9 379.3 799.9 379.3 801.9 379.2 803.9 379.2 805.9 379.1 807.9 379.1 809.9 378.9 811.9 378.8 813.9 378.6 815.9 378.4 817.9 378.2 819.9 377.9 821.9 377.7 823.9 377.4 825.9 377.1 827.9 376.8 829.9 376.5 831.9 376.2 833.9 375.8 835.8 375.4 837.8 375.0 839.8 374.5 841.7 374.1 843.7 373.6 845.6 373.1 847.6 372.6 849.5 372.0 851.4 371.5 853.4 370.9 855.3 370.3 857.2 369.6 859.1 369.0 861.0 368.3 862.9 367.6 864.8 366.9 866.6 366.1 868.5 365.4 870.4 364.6 872.2 363.9 874.1 363.0 875.9 362.2 877.7 361.3 879.5 360.3 881.2 359.3 882.9 358.3 884.6 357.1 886.2 356.0 887.8 354.7 889.4 353.5 890.9 352.2 892.4 350.9 893.8 349.5 895.2 348.0 896.6 346.6 898.0 345.1 899.3 343.6 900.6 342.0 902.0 340.5 903.3 338.9 904.6 337.4 905.8 335.8 907.0 334.2 908.2 332.6 909.5 331.0 910.7 329.4 911.9 327.9 913.3 326.3 914.6 324.8 916.0 323.3 917.4 321.9 918.8 320.4 920.3 319.1 921.9 317.9 923.5 316.8 925.2 315.8 927.1 314.9 928.9 314.0 930.7 313.2 932.5 312.3 934.3 311.4 936.1 310.5 937.9 309.6 939.8 308.7 941.6 307.9 943.4 307.1 945.3 306.2 947.2 305.5 949.0 304.8 951.0 304.3 952.9 303.7 954.9 303.2 956.9 302.7 958.8 302.4 960.8 302.2 962.8 302.3 964.9 302.6 966.8 303.2 968.7 303.7 970.4 304.5 972.1 305.6 973.7 306.9 975.2 308.4 976.7 309.8 978.2 311.2 979.5 312.7 980.9 314.2 982.2 315.7 983.5 317.3 984.7 318.8 986.0 320.4 987.4 321.9 988.7 323.4 990.1 324.9 991.5 326.3 992.9 327.8 994.2 329.2 995.7 330.7 997.1 332.1 998.5 333.5 1000.0 334.9 1001.4 336.3 1002.9 337.7 1004.4 339.0 1005.9 340.3 1007.4 341.6 1009.0 342.9 1010.5 344.1 1012.1 345.4 1013.7 346.6 1015.3 347.9 1016.8 349.2 1018.4 350.4 1020.0 351.7 1021.6 352.9 1023.1 354.2 1024.7 355.4 1026.4 356.6 1028.0 357.8 1029.6 358.9 1031.3 360.1 1033.0 361.2 1034.7 362.3 1036.4 363.3 1038.1 364.4 1039.8 365.4 1041.6 366.3 1043.3 367.3 1045.1 368.3 1046.9 369.2 1048.7 370.1 1050.5 371.0 1052.4 371.7 1054.2 372.5 1056.1 373.2 1058.0 373.9 1060.0 374.5 1061.9 375.1 1063.8 375.6 1065.8 376.0 1067.7 376.5 1069.7 376.9 1071.7 377.3 1073.7 377.6 1075.7 377.9 1077.7 378.2 1079.6 378.4 1081.6 378.6 1083.6 378.8 1085.7 378.9 1087.7 379.1 1089.7 379.2 1091.7 379.3 1093.7 379.4 1095.7 379.4 1097.7 379.5 1099.7 379.5 1101.7 379.6 1103.7 379.6 1105.8 379.6 1107.8 379.6 1109.8 379.7 1111.8 379.7 1113.8 379.7 1115.8 379.7 1117.8 379.7 1119.8 379.8 1121.8 379.8 1123.8 379.8 1125.9 379.8 1127.9 379.8 1129.9 379.8 1131.9 379.9 1133.9 379.9 1135.9 379.9 1137.9 379.9 1139.9 379.9 1141.9 379.9 1144.0 379.9 1146.0 379.9 1148.0 379.9 1150.0 379.9" fill="none" stroke="#7E2F8E" stroke-width="4.2" stroke-linejoin="round"/>
</g>
<g id="panel3">
<rect x="1369.9" y="10.1" width="478.3" height="369.8" fill="#fff" stroke="#262626" stroke-width="4.0"/>
<path d="M1506.6 379.9v-6.8M1506.6 10.1v6.8M1643.2 379.9v-6.8M1643.2 10.1v6.8M1779.9 379.9v-6.8M1779.9 10.1v6.8M1369.9 305.9h6.8M1848.2 305.9h-6.8M1369.9 232.0h6.8M1848.2 232.0h-6.8M1369.9 158.0h6.8M1848.2 158.0h-6.8M1369.9 84.1h6.8M1848.2 84.1h-6.8" stroke="#262626" stroke-width="4.0" fill="none"/>
<g font-family="Liberation Sans, sans-serif" font-weight="bold" font-size="31.25" fill="#262626" stroke="#262626" stroke-width="0.5">
<text x="1506.6" y="420.6" text-anchor="middle">0.98</text>
<text x="1643.2" y="420.6" text-anchor="middle">1</text>
<text x="1779.9" y="420.6" text-anchor="middle">1.02</text>
<text x="1359.8" y="317.9" text-anchor="end">50</text>
<text x="1359.8" y="244.0" text-anchor="end">100</text>
<text x="1359.8" y="170.0" text-anchor="end">150</text>
<text x="1359.8" y="96.1" text-anchor="end">200</text>
<text x="1359.8" y="22.1" text-anchor="end">250</text>
</g>
<text transform="translate(1295.2 196.5) rotate(-90)" text-anchor="middle" font-family="Liberation Serif, serif" font-weight="bold" font-size="31.45" fill="#262626" stroke="#262626" stroke-width="0.25">Probability Density</text>
<text font-family="Liberation Serif, serif" fill="#262626"><tspan x="1588.8" y="459.9" font-size="29.3" font-style="italic" stroke="#262626" stroke-width="1.2">μ</tspan><tspan x="1608.8" y="475.1" font-size="25" font-style="italic" stroke="#262626" stroke-width="0.8">θ</tspan><tspan x="1622.0" y="489.5" font-size="20" font-weight="bold">3</tspan></text>
<path d="M1596.2 379.9 1598.4 379.8 1600.5 379.5 1602.4 379.0 1604.3 378.5 1606.1 377.8 1607.8 377.1 1609.5 375.9 1611.0 374.4 1612.3 372.8 1613.4 371.2 1614.3 369.4 1615.1 367.5 1615.8 365.6 1616.4 363.7 1616.9 361.8 1617.4 359.8 1617.8 357.8 1618.2 355.9 1618.6 353.9 1619.0 351.9 1619.3 349.9 1619.6 348.0 1619.9 346.0 1620.2 344.0 1620.5 342.0 1620.8 340.0 1621.1 338.0 1621.4 336.0 1621.7 334.1 1622.0 332.1 1622.3 330.1 1622.6 328.1 1622.9 326.1 1623.2 324.1 1623.6 322.1 1623.9 320.2 1624.3 318.2 1624.6 316.2 1625.0 314.2 1625.3 312.2 1625.7 310.3 1626.0 308.3 1626.4 306.3 1626.7 304.3 1627.0 302.3 1627.2 300.3 1627.5 298.3 1627.7 296.4 1628.0 294.4 1628.2 292.4 1628.5 290.4 1628.7 288.4 1628.9 286.4 1629.2 284.4 1629.4 282.4 1629.6 280.4 1629.8 278.4 1630.0 276.4 1630.2 274.4 1630.4 272.4 1630.6 270.4 1630.9 268.4 1631.1 266.4 1631.3 264.4 1631.4 262.4 1631.6 260.4 1631.8 258.4 1632.0 256.4 1632.2 254.4 1632.4 252.4 1632.6 250.4 1632.8 248.4 1633.0 246.4 1633.2 244.4 1633.4 242.4 1633.5 240.4 1633.7 238.4 1633.9 236.4 1634.1 234.4 1634.3 232.4 1634.5 230.4 1634.7 228.4 1634.9 226.4 1635.1 224.4 1635.3 222.4 1635.5 220.4 1635.7 218.4 1635.9 216.4 1636.1 214.4 1636.3 212.4 1636.5 210.4 1636.7 208.4 1636.9 206.4 1637.1 204.4 1637.2 202.4 1637.4 200.4 1637.6 198.4 1637.8 196.4 1638.0 194.4 1638.1 192.4 1638.3 190.4 1638.4 188.4 1638.6 186.4 1638.7 184.4 1638.9 182.4 1639.1 180.4 1639.2 178.3 1639.3 176.3 1639.5 174.3 1639.6 172.3 1639.8 170.3 1639.9 168.3 1640.1 166.3 1640.2 164.3 1640.3 162.3 1640.5 160.3 1640.6 158.3 1640.7 156.3 1640.9 154.3 1641.0 152.3 1641.1 150.3 1641.3 148.3 1641.4 146.3 1641.5 144.3 1641.6 142.3 1641.8 140.3 1641.9 138.2 1642.0 136.2 1642.1 134.2 1642.2 132.2 1642.4 130.2 1642.5 128.2 1642.6 126.2 1642.7 124.2 1642.8 122.2 1643.0 120.2 1643.1 118.2 1643.2 116.2 1643.3 114.2 1643.4 112.2 1643.5 110.2 1643.7 108.1 1643.8 106.1 1643.9 104.1 1644.0 102.1 1644.2 100.1 1644.3 98.1 1644.5 96.1 1644.7 94.1 1645.0 92.1 1645.3 90.0 1645.7 88.1 1646.1 86.2 1646.9 84.3 1648.2 82.8 1650.1 81.6 1651.8 81.1 1652.9 82.4 1653.8 84.7 1654.2 86.6 1654.6 88.6 1654.9 90.6 1655.1 92.6 1655.4 94.6 1655.6 96.6 1655.8 98.6 1656.0 100.6 1656.2 102.6 1656.4 104.6 1656.6 106.6 1656.7 108.6 1656.9 110.7 1657.1 112.7 1657.2 114.7 1657.4 116.7 1657.6 118.7 1657.7 120.7 1657.8 122.7 1658.0 124.7 1658.1 126.7 1658.2 128.7 1658.4 130.7 1658.5 132.7 1658.6 134.7 1658.7 136.7 1658.9 138.7 1659.0 140.7 1659.1 142.7 1659.2 144.7 1659.4 146.7 1659.5 148.7 1659.6 150.8 1659.7 152.8 1659.8 154.8 1660.0 156.8 1660.1 158.8 1660.2 160.8 1660.4 162.8 1660.5 164.8 1660.6 166.8 1660.7 168.8 1660.9 170.8 1661.0 172.8 1661.1 174.8 1661.2 176.8 1661.4 178.8 1661.5 180.8 1661.6 182.8 1661.7 184.8 1661.9 186.9 1662.0 188.9 1662.1 190.9 1662.3 192.9 1662.4 194.9 1662.5 196.9 1662.7 198.9 1662.8 200.9 1662.9 202.9 1663.1 204.9 1663.2 206.9 1663.4 208.9 1663.6 210.9 1663.8 212.9 1663.9 214.9 1664.1 216.9 1664.3 218.9 1664.5 220.9 1664.7 222.9 1664.9 224.9 1665.0 226.9 1665.2 228.9 1665.4 230.9 1665.6 232.9 1665.8 234.9 1665.9 236.9 1666.1 238.9 1666.3 240.9 1666.4 242.9 1666.6 244.9 1666.8 246.9 1667.0 248.9 1667.1 250.9 1667.3 252.9 1667.5 254.9 1667.6 256.9 1667.8 258.9 1668.0 260.9 1668.2 262.9 1668.3 265.0 1668.5 267.0 1668.7 269.0 1668.9 271.0 1669.1 273.0 1669.2 275.0 1669.4 277.0 1669.6 279.0 1669.8 281.0 1670.0 283.0 1670.2 285.0 1670.4 287.0 1670.6 289.0 1670.9 291.0 1671.1 292.9 1671.3 294.9 1671.6 296.9 1671.8 298.9 1672.1 300.9 1672.3 302.9 1672.6 304.9 1672.9 306.9 1673.2 308.9 1673.5 310.9 1673.7 312.9 1674.0 314.9 1674.4 316.8 1674.7 318.8 1675.0 320.8 1675.3 322.8 1675.6 324.8 1675.8 326.8 1676.1 328.8 1676.4 330.8 1676.7 332.7 1677.0 334.7 1677.3 336.7 1677.6 338.7 1677.9 340.7 1678.3 342.7 1678.6 344.7 1679.0 346.6 1679.3 348.6 1679.7 350.6 1680.1 352.6 1680.5 354.5 1681.0 356.5 1681.5 358.4 1682.1 360.3 1682.8 362.2 1683.6 364.1 1684.4 365.9 1685.3 367.7 1686.3 369.5 1687.4 371.2 1688.7 372.7 1690.2 373.9 1692.0 375.0 1693.8 376.0 1695.5 376.9 1697.4 377.8 1699.2 378.5 1701.1 379.3 1703.0 379.9" fill="none" stroke="#0072BD" stroke-width="4.2" stroke-linejoin="round"/>
<path d="M1569.6 379.9 1571.7 379.9 1573.8 379.8 1575.9 379.7 1577.9 379.6 1579.9 379.4 1581.9 379.2 1583.9 379.0 1585.9 378.8 1587.8 378.5 1589.7 378.2 1591.6 377.9 1593.5 377.3 1595.3 376.5 1597.1 375.5 1598.9 374.4 1600.6 373.3 1602.3 372.2 1604.0 371.1 1605.6 369.9 1607.3 368.7 1608.8 367.3 1610.3 366.0 1611.6 364.5 1612.9 363.0 1614.1 361.4 1615.2 359.7 1616.3 358.0 1617.3 356.2 1618.3 354.5 1619.3 352.7 1620.2 351.0 1621.1 349.1 1621.9 347.3 1622.7 345.5 1623.5 343.6 1624.3 341.7 1625.0 339.9 1625.7 338.0 1626.4 336.1 1627.1 334.2 1627.7 332.3 1628.4 330.4 1629.0 328.5 1629.6 326.6 1630.2 324.6 1630.7 322.7 1631.3 320.8 1631.9 318.8 1632.4 316.9 1632.9 314.9 1633.5 313.0 1634.0 311.1 1634.5 309.1 1635.0 307.2 1635.5 305.2 1636.0 303.3 1636.5 301.3 1636.9 299.4 1637.4 297.4 1637.9 295.5 1638.4 293.5 1638.8 291.5 1639.3 289.6 1639.8 287.6 1640.3 285.7 1640.8 283.7 1641.3 281.8 1641.8 279.9 1642.3 277.9 1642.8 276.0 1643.4 274.0 1643.9 272.1 1644.4 270.1 1645.0 268.2 1645.5 266.3 1646.1 264.4 1646.7 262.4 1647.3 260.5 1647.9 258.6 1648.5 256.6 1649.1 254.7 1649.9 252.9 1650.7 251.1 1651.7 249.3 1652.8 247.6 1653.9 245.9 1655.0 244.2 1655.9 242.5 1656.8 240.6 1657.6 238.8 1658.4 236.9 1659.1 235.1 1660.0 233.2 1660.9 231.4 1661.8 229.7 1662.9 227.9 1664.1 226.3 1665.5 224.9 1667.2 223.5 1669.0 223.1 1671.0 223.6 1672.9 224.4 1674.3 225.5 1675.6 227.1 1676.8 228.9 1677.7 230.8 1678.5 232.6 1679.1 234.5 1679.7 236.4 1680.3 238.4 1680.8 240.3 1681.3 242.3 1681.8 244.2 1682.3 246.2 1682.8 248.1 1683.3 250.1 1683.8 252.1 1684.2 254.0 1684.7 256.0 1685.2 257.9 1685.6 259.9 1686.1 261.8 1686.6 263.8 1687.1 265.7 1687.7 267.7 1688.3 269.6 1688.9 271.5 1689.5 273.4 1690.1 275.3 1690.7 277.3 1691.3 279.2 1691.8 281.1 1692.4 283.0 1693.0 285.0 1693.5 286.9 1694.0 288.8 1694.6 290.8 1695.1 292.7 1695.6 294.7 1696.1 296.6 1696.6 298.6 1697.1 300.5 1697.7 302.5 1698.2 304.4 1698.7 306.3 1699.2 308.3 1699.8 310.2 1700.3 312.2 1700.8 314.1 1701.4 316.0 1701.9 318.0 1702.4 319.9 1703.0 321.8 1703.5 323.8 1704.1 325.7 1704.6 327.7 1705.2 329.6 1705.7 331.5 1706.2 333.5 1706.8 335.4 1707.4 337.3 1708.0 339.3 1708.6 341.2 1709.3 343.1 1709.9 344.9 1710.7 346.8 1711.4 348.7 1712.3 350.5 1713.1 352.4 1714.0 354.2 1714.9 356.0 1715.8 357.7 1716.8 359.5 1717.9 361.2 1719.0 363.0 1720.2 364.6 1721.4 366.1 1722.7 367.6 1724.2 369.0 1725.7 370.4 1727.3 371.7 1729.0 372.9 1730.7 373.9 1732.4 374.8 1734.2 375.6 1736.1 376.3 1738.1 376.9 1740.1 377.5 1742.0 377.9 1744.0 378.3 1745.9 378.6 1747.9 378.9 1749.9 379.2 1751.9 379.4 1753.9 379.6 1755.9 379.8 1758.0 379.9 1760.0 379.9" fill="none" stroke="#D95319" stroke-width="4.2" stroke-linejoin="round"/>
<path d="M1531.4 379.9 1533.5 379.9 1535.5 379.9 1537.6 379.8 1539.6 379.8 1541.6 379.7 1543.6 379.6 1545.7 379.5 1547.7 379.4 1549.7 379.2 1551.7 379.1 1553.7 378.9 1555.7 378.8 1557.6 378.6 1559.6 378.4 1561.6 378.2 1563.6 378.0 1565.5 377.6 1567.5 377.2 1569.4 376.6 1571.3 376.0 1573.3 375.3 1575.2 374.6 1577.1 374.0 1579.0 373.3 1580.9 372.6 1582.8 371.8 1584.6 371.0 1586.4 370.1 1588.0 369.0 1589.6 367.8 1591.2 366.5 1592.6 365.1 1594.1 363.7 1595.6 362.2 1597.0 360.8 1598.4 359.4 1599.9 358.0 1601.3 356.5 1602.7 355.1 1604.0 353.6 1605.4 352.0 1606.7 350.5 1607.9 348.9 1609.1 347.4 1610.3 345.7 1611.4 344.1 1612.5 342.4 1613.6 340.7 1614.6 338.9 1615.6 337.1 1616.6 335.4 1617.5 333.6 1618.4 331.8 1619.2 329.9 1620.0 328.1 1620.8 326.2 1621.5 324.4 1622.2 322.5 1623.0 320.6 1623.7 318.7 1624.4 316.8 1625.2 315.0 1625.9 313.1 1626.7 311.2 1627.4 309.4 1628.2 307.5 1628.9 305.6 1629.7 303.8 1630.5 301.9 1631.2 300.0 1632.0 298.2 1632.7 296.3 1633.4 294.4 1634.2 292.5 1634.9 290.6 1635.6 288.8 1636.3 286.9 1637.0 285.0 1637.8 283.1 1638.6 281.3 1639.4 279.4 1640.2 277.6 1641.0 275.8 1641.8 273.9 1642.7 272.1 1643.6 270.3 1644.4 268.4 1645.3 266.5 1646.2 264.7 1647.3 263.1 1648.7 261.7 1650.4 260.4 1652.2 259.8 1654.1 259.5 1656.2 259.3 1658.2 259.2 1660.3 259.1 1662.3 259.0 1664.3 259.1 1666.3 259.7 1668.1 260.4 1669.8 261.4 1671.2 262.8 1672.6 264.4 1673.9 266.0 1675.2 267.5 1676.3 269.2 1677.5 270.9 1678.5 272.6 1679.5 274.3 1680.4 276.1 1681.3 277.9 1682.0 279.8 1682.8 281.7 1683.5 283.5 1684.3 285.4 1685.1 287.3 1686.0 289.1 1686.9 290.9 1687.8 292.7 1688.7 294.5 1689.6 296.3 1690.5 298.1 1691.4 299.9 1692.3 301.7 1693.2 303.5 1694.1 305.3 1695.0 307.1 1695.9 308.9 1696.8 310.7 1697.7 312.5 1698.6 314.3 1699.5 316.1 1700.4 317.9 1701.3 319.7 1702.2 321.5 1703.1 323.3 1703.9 325.1 1704.8 327.0 1705.7 328.8 1706.6 330.6 1707.5 332.4 1708.4 334.2 1709.4 335.9 1710.5 337.6 1711.6 339.3 1712.7 341.0 1713.9 342.6 1715.0 344.3 1716.2 345.9 1717.3 347.6 1718.4 349.3 1719.4 351.0 1720.5 352.7 1721.6 354.4 1722.8 356.1 1724.0 357.7 1725.2 359.2 1726.5 360.8 1727.8 362.4 1729.2 363.8 1730.6 365.3 1732.1 366.6 1733.6 367.9 1735.2 369.2 1736.9 370.4 1738.6 371.4 1740.4 372.3 1742.2 373.1 1744.1 373.9 1746.0 374.5 1747.9 375.2 1749.8 375.8 1751.8 376.4 1753.7 377.0 1755.7 377.5 1757.6 377.9 1759.6 378.2 1761.6 378.5 1763.6 378.6 1765.6 378.8 1767.6 378.9 1769.6 379.1 1771.5 379.2 1773.5 379.3 1775.6 379.4 1777.6 379.5 1779.6 379.6 1781.6 379.7 1783.6 379.7 1785.6 379.8 1787.7 379.8 1789.7 379.9 1791.8 379.9 1793.8 379.9" fill="none" stroke="#EDB120" stroke-width="4.2" stroke-linejoin="round"/>
<path d="M1400.0 379.9 1402.0 379.9 1404.0 379.9 1406.0 379.9 1408.1 379.8 1410.1 379.8 1412.1 379.8 1414.1 379.7 1416.1 379.7 1418.1 379.6 1420.1 379.6 1422.1 379.5 1424.2 379.5 1426.2 379.4 1428.2 379.4 1430.2 379.3 1432.2 379.3 1434.2 379.2 1436.2 379.1 1438.2 379.1 1440.2 379.0 1442.3 378.9 1444.3 378.9 1446.3 378.8 1448.3 378.7 1450.3 378.6 1452.3 378.5 1454.4 378.4 1456.4 378.3 1458.4 378.2 1460.4 378.1 1462.4 378.0 1464.4 377.8 1466.4 377.7 1468.4 377.5 1470.4 377.4 1472.4 377.2 1474.4 377.0 1476.4 376.9 1478.4 376.7 1480.4 376.5 1482.4 376.2 1484.4 375.8 1486.3 375.4 1488.3 375.0 1490.3 374.5 1492.2 374.0 1494.2 373.5 1496.1 373.0 1498.1 372.5 1500.1 372.0 1502.0 371.6 1504.0 371.1 1505.9 370.7 1507.9 370.2 1509.9 369.7 1511.8 369.2 1513.8 368.7 1515.7 368.2 1517.6 367.6 1519.5 367.0 1521.5 366.4 1523.4 365.8 1525.3 365.2 1527.2 364.5 1529.1 363.8 1531.0 363.1 1532.9 362.4 1534.7 361.7 1536.6 361.0 1538.5 360.2 1540.4 359.5 1542.3 358.7 1544.1 357.9 1545.9 357.1 1547.7 356.2 1549.4 355.2 1551.1 354.1 1552.7 352.9 1554.3 351.7 1555.9 350.4 1557.5 349.1 1559.1 347.9 1560.7 346.7 1562.4 345.5 1564.0 344.4 1565.7 343.2 1567.3 342.1 1569.0 340.9 1570.6 339.8 1572.3 338.6 1573.9 337.5 1575.6 336.4 1577.3 335.2 1578.9 334.1 1580.6 332.9 1582.2 331.7 1583.8 330.5 1585.3 329.2 1586.9 327.9 1588.4 326.6 1589.9 325.3 1591.4 324.0 1593.0 322.7 1594.5 321.4 1596.1 320.1 1597.6 318.8 1599.3 317.6 1600.9 316.5 1602.5 315.3 1604.2 314.2 1605.9 313.0 1607.5 311.9 1609.1 310.7 1610.7 309.5 1612.3 308.2 1613.9 307.0 1615.6 305.9 1617.2 304.7 1619.0 303.7 1620.8 302.8 1622.6 302.1 1624.6 301.4 1626.5 300.9 1628.5 300.4 1630.5 300.1 1632.5 300.0 1634.5 300.2 1636.5 300.6 1638.5 301.1 1640.4 301.7 1642.2 302.3 1644.0 303.3 1645.7 304.4 1647.3 305.6 1648.9 306.9 1650.5 308.1 1652.1 309.4 1653.6 310.7 1655.1 312.1 1656.6 313.4 1658.0 314.9 1659.5 316.3 1660.9 317.7 1662.2 319.2 1663.6 320.7 1664.9 322.2 1666.2 323.7 1667.6 325.2 1669.0 326.7 1670.4 328.1 1671.7 329.6 1673.2 331.0 1674.6 332.5 1676.0 333.9 1677.5 335.2 1679.0 336.6 1680.5 337.9 1682.1 339.2 1683.7 340.4 1685.3 341.7 1686.9 342.8 1688.6 343.9 1690.3 345.0 1692.0 346.0 1693.8 347.0 1695.5 348.0 1697.3 349.0 1699.0 350.0 1700.8 351.0 1702.5 352.0 1704.2 353.0 1706.0 354.1 1707.7 355.1 1709.4 356.1 1711.1 357.2 1712.9 358.2 1714.6 359.3 1716.3 360.3 1718.1 361.2 1719.9 362.2 1721.6 363.1 1723.5 364.0 1725.3 364.9 1727.1 365.6 1729.0 366.4 1730.9 367.1 1732.8 367.7 1734.7 368.4 1736.6 369.0 1738.5 369.6 1740.5 370.2 1742.4 370.8 1744.3 371.4 1746.3 371.9 1748.2 372.4 1750.1 373.0 1752.1 373.5 1754.0 374.0 1756.0 374.5 1757.9 375.1 1759.9 375.6 1761.8 376.1 1763.8 376.6 1765.7 377.0 1767.7 377.3 1769.7 377.6 1771.7 378.0 1773.7 378.3 1775.7 378.5 1777.7 378.7 1779.7 378.9 1781.7 379.0 1783.7 379.1 1785.7 379.2 1787.7 379.3 1789.7 379.3 1791.8 379.4 1793.8 379.5 1795.8 379.5 1797.8 379.6 1799.8 379.6 1801.8 379.6 1803.8 379.7 1805.8 379.7 1807.9 379.7 1809.9 379.7 1811.9 379.8 1813.9 379.8 1815.9 379.8 1817.9 379.8 1819.9 379.9 1821.9 379.9 1824.0 379.9 1826.0 379.9 1828.0 379.9 1830.0 379.9" fill="none" stroke="#7E2F8E" stroke-width="4.2" stroke-linejoin="round"/>
</g>
<g id="panel4">
<rect x="96.0" y="549.0" width="478.3" height="369.4" fill="#fff" stroke="#262626" stroke-width="4.0"/>
<path d="M175.7 918.4v-6.8M175.7 549.0v6.8M335.1 918.4v-6.8M335.1 549.0v6.8M494.6 918.4v-6.8M494.6 549.0v6.8M96.0 795.3h6.8M574.3 795.3h-6.8M96.0 672.1h6.8M574.3 672.1h-6.8" stroke="#262626" stroke-width="4.0" fill="none"/>
<g font-family="Liberation Sans, sans-serif" font-weight="bold" font-size="31.25" fill="#262626" stroke="#262626" stroke-width="0.5">
<text x="175.7" y="959.1" text-anchor="middle">0.04</text>
<text x="335.1" y="959.1" text-anchor="middle">0.06</text>
<text x="494.6" y="959.1" text-anchor="middle">0.08</text>
<text x="85.9" y="930.4" text-anchor="end">0</text>
<text x="85.9" y="807.3" text-anchor="end">100</text>
<text x="85.9" y="684.1" text-anchor="end">200</text>
<text x="85.9" y="561.0" text-anchor="end">300</text>
</g>
<text transform="translate(21.3 735.2) rotate(-90)" text-anchor="middle" font-family="Liberation Serif, serif" font-weight="bold" font-size="31.45" fill="#262626" stroke="#262626" stroke-width="0.25">Probability Density</text>
<text font-family="Liberation Serif, serif" fill="#262626"><tspan x="315.3" y="998.4" font-size="31.25" font-style="italic" stroke="#262626" stroke-width="0.9">σ</tspan><tspan x="334.8" y="1013.6" font-size="25" font-style="italic" stroke="#262626" stroke-width="0.8">θ</tspan><tspan x="348.0" y="1028.0" font-size="20" font-weight="bold">1</tspan></text>
<path d="M191.0 918.4 192.2 916.7 193.3 915.0 194.3 913.3 195.0 911.5 195.7 909.6 196.2 907.7 196.8 905.8 197.3 903.8 197.7 901.8 198.2 899.8 198.6 897.8 198.9 895.8 199.3 893.8 199.6 891.9 200.0 889.9 200.3 887.9 200.6 885.9 200.9 883.9 201.1 881.9 201.4 879.9 201.6 877.9 201.9 875.9 202.1 873.9 202.4 871.9 202.6 869.9 202.8 867.9 203.0 865.9 203.2 863.9 203.4 861.9 203.6 859.9 203.8 857.9 204.0 855.9 204.2 853.9 204.4 851.9 204.5 849.9 204.7 847.9 204.9 845.9 205.0 843.9 205.2 841.9 205.4 839.9 205.5 837.9 205.7 835.9 205.9 833.9 206.0 831.9 206.2 829.9 206.4 827.9 206.5 825.8 206.7 823.8 206.8 821.8 207.0 819.8 207.1 817.8 207.3 815.8 207.5 813.8 207.6 811.8 207.8 809.8 207.9 807.8 208.0 805.8 208.2 803.8 208.3 801.8 208.5 799.8 208.6 797.8 208.7 795.8 208.9 793.7 209.0 791.7 209.1 789.7 209.2 787.7 209.3 785.7 209.5 783.7 209.6 781.7 209.7 779.7 209.8 777.7 209.9 775.7 210.0 773.7 210.2 771.7 210.3 769.6 210.4 767.6 210.5 765.6 210.6 763.6 210.7 761.6 210.9 759.6 211.0 757.6 211.1 755.6 211.2 753.6 211.4 751.6 211.5 749.6 211.6 747.6 211.7 745.5 211.9 743.5 212.0 741.5 212.1 739.5 212.3 737.5 212.4 735.5 212.5 733.5 212.7 731.5 212.8 729.5 213.0 727.5 213.1 725.5 213.2 723.5 213.4 721.5 213.5 719.5 213.7 717.5 213.8 715.4 214.0 713.4 214.1 711.4 214.3 709.4 214.5 707.4 214.6 705.4 214.8 703.4 214.9 701.4 215.1 699.4 215.2 697.4 215.4 695.4 215.6 693.4 215.7 691.4 215.9 689.4 216.1 687.4 216.2 685.4 216.4 683.4 216.6 681.4 216.7 679.3 216.9 677.3 217.1 675.3 217.2 673.3 217.4 671.3 217.6 669.3 217.8 667.3 217.9 665.3 218.1 663.3 218.3 661.3 218.5 659.3 218.7 657.3 218.9 655.3 219.0 653.3 219.2 651.3 219.4 649.3 219.6 647.3 219.8 645.3 220.0 643.3 220.2 641.3 220.4 639.3 220.6 637.3 220.8 635.3 221.0 633.3 221.2 631.3 221.4 629.3 221.7 627.3 221.9 625.3 222.1 623.3 222.3 621.3 222.5 619.3 222.6 617.3 222.8 615.2 223.0 613.2 223.2 611.2 223.4 609.2 223.6 607.2 223.8 605.2 224.2 603.3 224.6 601.0 225.3 598.5 226.0 596.8 226.7 596.7 227.4 598.3 228.1 600.8 228.6 603.1 228.9 605.0 229.2 607.0 229.4 609.0 229.6 611.0 229.8 613.0 229.9 615.1 230.1 617.1 230.2 619.1 230.4 621.1 230.6 623.1 230.8 625.1 230.9 627.1 231.1 629.1 231.3 631.1 231.4 633.1 231.6 635.1 231.7 637.1 231.9 639.1 232.0 641.2 232.2 643.2 232.3 645.2 232.5 647.2 232.6 649.2 232.8 651.2 232.9 653.2 233.1 655.2 233.2 657.2 233.4 659.2 233.5 661.2 233.7 663.2 233.8 665.2 234.0 667.2 234.1 669.2 234.2 671.2 234.4 673.3 234.5 675.3 234.7 677.3 234.8 679.3 235.0 681.3 235.1 683.3 235.2 685.3 235.4 687.3 235.5 689.3 235.7 691.3 235.8 693.3 236.0 695.3 236.1 697.3 236.3 699.3 236.4 701.3 236.6 703.4 236.7 705.4 236.9 707.4 237.0 709.4 237.2 711.4 237.3 713.4 237.4 715.4 237.6 717.4 237.7 719.4 237.9 721.4 238.0 723.4 238.2 725.4 238.3 727.4 238.5 729.4 238.6 731.4 238.8 733.4 238.9 735.5 239.0 737.5 239.2 739.5 239.3 741.5 239.5 743.5 239.6 745.5 239.7 747.5 239.9 749.5 240.0 751.5 240.1 753.5 240.3 755.5 240.4 757.5 240.6 759.5 240.7 761.5 240.8 763.6 241.0 765.6 241.1 767.6 241.3 769.6 241.4 771.6 241.6 773.6 241.7 775.6 241.8 777.6 242.0 779.6 242.1 781.6 242.3 783.6 242.4 785.6 242.6 787.6 242.7 789.6 242.9 791.6 243.0 793.7 243.2 795.7 243.3 797.7 243.5 799.7 243.7 801.7 243.8 803.7 244.0 805.7 244.2 807.7 244.3 809.7 244.5 811.7 244.7 813.7 244.9 815.7 245.1 817.7 245.3 819.7 245.5 821.7 245.7 823.7 245.9 825.7 246.1 827.7 246.3 829.7 246.5 831.7 246.7 833.7 246.9 835.7 247.1 837.7 247.3 839.7 247.6 841.7 247.8 843.7 248.0 845.7 248.2 847.7 248.4 849.7 248.7 851.7 248.9 853.7 249.1 855.7 249.3 857.7 249.6 859.7 249.8 861.7 250.0 863.7 250.3 865.7 250.5 867.7 250.8 869.7 251.1 871.7 251.3 873.7 251.6 875.7 251.9 877.7 252.1 879.7 252.4 881.7 252.7 883.7 253.0 885.7 253.3 887.7 253.6 889.6 254.0 891.6 254.4 893.6 254.8 895.5 255.2 897.5 255.7 899.5 256.2 901.5 256.7 903.5 257.3 905.5 258.0 907.3 258.8 909.1 259.7 910.8 261.0 912.6 262.4 914.3 263.9 915.5 265.5 916.2 267.2 916.7 268.9 917.1 270.8 917.5 272.8 917.8 274.8 918.1 277.0 918.2 279.2 918.4 281.6 918.4" fill="none" stroke="#0072BD" stroke-width="4.2" stroke-linejoin="round"/>
<path d="M194.0 918.4 196.2 918.4 198.4 918.3 200.5 918.1 202.6 917.9 204.6 917.7 206.6 917.4 208.5 917.1 210.3 916.7 212.1 916.3 213.9 915.8 215.7 914.9 217.4 913.6 219.0 912.2 220.3 910.7 221.5 909.2 222.5 907.5 223.5 905.7 224.3 903.8 225.1 901.9 225.9 900.0 226.6 898.1 227.3 896.2 227.9 894.3 228.5 892.4 229.1 890.5 229.7 888.5 230.2 886.6 230.7 884.6 231.3 882.7 231.7 880.7 232.2 878.8 232.7 876.8 233.1 874.8 233.6 872.9 234.0 870.9 234.4 868.9 234.8 867.0 235.2 865.0 235.6 863.0 236.0 861.0 236.4 859.0 236.8 857.1 237.2 855.1 237.6 853.1 238.0 851.1 238.4 849.2 238.7 847.2 239.1 845.2 239.5 843.2 239.9 841.3 240.3 839.3 240.6 837.3 241.0 835.3 241.4 833.3 241.7 831.3 242.1 829.4 242.4 827.4 242.8 825.4 243.1 823.4 243.5 821.4 243.8 819.4 244.2 817.5 244.5 815.5 244.8 813.5 245.2 811.5 245.5 809.5 245.8 807.5 246.1 805.5 246.4 803.5 246.8 801.5 247.1 799.6 247.4 797.6 247.7 795.6 248.1 793.6 248.4 791.6 248.7 789.6 249.0 787.6 249.4 785.6 249.7 783.6 250.0 781.7 250.3 779.7 250.6 777.7 251.0 775.7 251.3 773.7 251.6 771.7 251.9 769.7 252.3 767.7 252.6 765.8 253.0 763.8 253.3 761.8 253.6 759.8 254.0 757.8 254.4 755.8 254.8 753.9 255.2 751.9 255.6 749.9 256.0 747.9 256.4 746.0 256.8 744.0 257.2 742.0 257.7 740.0 258.1 738.1 258.6 736.1 259.1 734.2 259.7 732.2 260.4 730.4 261.3 728.5 262.6 727.0 264.4 726.5 266.3 727.4 267.9 728.6 269.3 730.1 270.6 731.6 271.9 733.2 272.9 734.9 273.9 736.7 274.7 738.5 275.4 740.4 276.0 742.4 276.5 744.3 277.1 746.2 277.6 748.2 278.1 750.1 278.6 752.1 279.1 754.0 279.5 756.0 279.9 758.0 280.4 760.0 280.8 761.9 281.2 763.9 281.6 765.9 282.0 767.8 282.4 769.8 282.7 771.8 283.1 773.8 283.5 775.8 283.8 777.8 284.2 779.7 284.5 781.7 284.8 783.7 285.2 785.7 285.5 787.7 285.8 789.7 286.1 791.7 286.3 793.7 286.6 795.7 286.9 797.7 287.1 799.7 287.4 801.7 287.7 803.7 288.0 805.6 288.3 807.6 288.6 809.6 289.0 811.6 289.3 813.6 289.7 815.6 290.1 817.6 290.4 819.5 290.8 821.5 291.2 823.5 291.5 825.5 291.9 827.5 292.2 829.5 292.5 831.5 292.9 833.4 293.2 835.4 293.5 837.4 293.9 839.4 294.3 841.4 294.7 843.3 295.1 845.3 295.6 847.3 296.0 849.2 296.5 851.2 297.1 853.1 297.6 855.1 298.1 857.0 298.7 859.0 299.3 860.9 299.8 862.8 300.4 864.8 301.0 866.7 301.6 868.6 302.1 870.5 302.7 872.5 303.3 874.4 304.0 876.3 304.6 878.2 305.2 880.1 305.9 882.0 306.6 883.9 307.4 885.8 308.1 887.7 308.9 889.6 309.7 891.4 310.5 893.3 311.4 895.1 312.3 896.9 313.3 898.7 314.3 900.4 315.4 902.0 316.6 903.7 317.8 905.3 319.2 906.9 320.7 908.3 322.2 909.5 323.8 910.6 325.6 911.6 327.4 912.5 329.3 913.3 331.2 914.0 333.1 914.6 335.0 915.2 337.0 915.8 339.0 916.3 340.9 916.6 342.9 916.9 344.9 917.2 346.9 917.4 348.9 917.7 350.9 917.9 352.9 918.0 354.9 918.2 356.9 918.3 359.0 918.4 361.0 918.4" fill="none" stroke="#D95319" stroke-width="4.2" stroke-linejoin="round"/>
<path d="M143.9 918.4 146.0 918.4 148.0 918.3 150.1 918.3 152.1 918.2 154.2 918.1 156.2 917.9 158.2 917.8 160.2 917.6 162.1 917.4 164.1 917.2 166.1 917.0 168.0 916.8 170.0 916.3 172.0 915.8 173.9 915.1 175.8 914.3 177.7 913.4 179.4 912.5 181.2 911.6 182.8 910.5 184.5 909.2 186.0 907.9 187.5 906.5 188.9 905.1 190.3 903.6 191.6 902.1 192.8 900.5 194.1 898.9 195.2 897.2 196.3 895.5 197.4 893.7 198.4 892.0 199.3 890.3 200.3 888.5 201.1 886.7 202.0 884.8 202.8 883.0 203.6 881.1 204.3 879.2 205.1 877.3 205.8 875.4 206.4 873.5 207.1 871.6 207.7 869.7 208.3 867.8 208.8 865.8 209.4 863.9 209.9 861.9 210.5 860.0 211.0 858.0 211.5 856.1 212.0 854.1 212.5 852.2 212.9 850.2 213.4 848.2 213.8 846.3 214.3 844.3 214.7 842.3 215.2 840.4 215.6 838.4 216.0 836.4 216.5 834.5 217.0 832.5 217.4 830.5 217.9 828.6 218.4 826.6 218.8 824.6 219.3 822.7 219.8 820.7 220.2 818.8 220.7 816.8 221.2 814.8 221.8 812.9 222.3 811.0 222.9 809.0 223.4 807.1 224.0 805.2 224.6 803.2 225.3 801.3 225.9 799.4 226.6 797.5 227.4 795.6 228.1 793.8 228.9 791.9 229.7 790.0 230.5 788.1 231.4 786.3 232.4 784.5 233.5 782.9 234.7 781.3 236.2 779.6 237.8 778.4 239.6 777.8 241.5 777.6 243.6 777.4 245.7 777.4 247.8 777.7 249.8 778.2 251.4 779.0 252.6 780.3 253.7 782.0 254.6 784.1 255.5 786.1 256.3 787.9 257.1 789.8 257.8 791.7 258.5 793.6 259.1 795.5 259.8 797.4 260.4 799.3 261.1 801.2 261.8 803.1 262.6 805.0 263.3 806.9 264.0 808.8 264.7 810.6 265.4 812.5 266.1 814.4 266.8 816.3 267.5 818.2 268.2 820.1 268.9 822.0 269.6 823.9 270.3 825.8 271.0 827.7 271.7 829.6 272.5 831.4 273.2 833.3 274.1 835.1 274.9 837.0 275.7 838.8 276.5 840.7 277.3 842.5 278.1 844.4 278.9 846.2 279.6 848.1 280.4 850.0 281.1 851.9 281.8 853.7 282.5 855.6 283.3 857.5 284.0 859.4 284.7 861.3 285.4 863.2 286.1 865.1 286.8 867.0 287.4 868.9 288.1 870.8 288.8 872.7 289.5 874.6 290.2 876.5 290.9 878.3 291.7 880.2 292.4 882.1 293.2 884.0 294.0 885.8 294.8 887.7 295.7 889.5 296.6 891.2 297.6 893.0 298.7 894.7 299.8 896.4 301.0 898.1 302.2 899.7 303.4 901.3 304.7 902.8 306.1 904.3 307.5 905.8 309.0 907.1 310.6 908.4 312.2 909.6 313.8 910.8 315.6 911.9 317.4 912.8 319.2 913.4 321.1 914.0 323.1 914.5 325.0 915.0 327.0 915.4 329.1 915.8 331.1 916.1 333.1 916.4 335.1 916.6 337.1 916.8 339.1 917.0 341.1 917.2 343.1 917.3 345.1 917.5 347.1 917.6 349.2 917.7 351.2 917.8 353.2 917.8 355.2 917.9 357.2 917.9 359.2 918.0 361.3 918.0 363.3 918.1 365.3 918.1 367.3 918.2 369.3 918.2 371.3 918.2 373.4 918.3 375.4 918.3 377.4 918.3 379.4 918.4 381.4 918.4 383.4 918.4 385.5 918.4 387.5 918.4 389.5 918.4" fill="none" stroke="#EDB120" stroke-width="4.2" stroke-linejoin="round"/>
<path d="M161.4 918.4 163.4 918.4 165.5 918.4 167.5 918.3 169.5 918.3 171.5 918.2 173.5 918.1 175.6 918.0 177.6 917.9 179.6 917.8 181.6 917.7 183.6 917.5 185.6 917.4 187.6 917.2 189.6 917.0 191.6 916.7 193.6 916.4 195.6 916.0 197.6 915.6 199.6 915.2 201.5 914.8 203.5 914.3 205.4 913.8 207.4 913.2 209.3 912.6 211.2 911.9 213.1 911.2 215.0 910.4 216.8 909.6 218.6 908.7 220.3 907.7 222.1 906.6 223.8 905.4 225.4 904.3 227.0 903.0 228.5 901.8 230.0 900.4 231.4 899.0 232.8 897.6 234.2 896.0 235.6 894.5 236.9 892.9 238.1 891.4 239.4 889.8 240.6 888.2 241.9 886.6 243.0 885.0 244.2 883.3 245.3 881.7 246.5 880.0 247.6 878.3 248.7 876.6 249.8 874.9 250.8 873.2 251.9 871.5 252.9 869.7 254.0 868.0 255.0 866.3 256.1 864.6 257.1 862.9 258.2 861.2 259.4 859.5 260.5 857.8 261.6 856.1 262.8 854.5 263.9 852.8 265.1 851.2 266.3 849.6 267.5 848.0 268.8 846.3 270.0 844.7 271.3 843.2 272.6 841.6 273.9 840.1 275.3 838.7 276.8 837.3 278.3 835.9 279.8 834.6 281.5 833.4 283.1 832.2 284.9 831.2 286.6 830.3 288.5 829.5 290.4 828.8 292.4 828.3 294.3 827.9 296.4 827.7 298.4 827.6 300.4 827.9 302.4 828.5 304.2 829.3 305.8 830.3 307.3 831.6 308.8 833.1 310.2 834.6 311.7 836.1 313.1 837.5 314.5 838.9 315.9 840.4 317.3 841.8 318.7 843.3 320.1 844.7 321.6 846.1 323.0 847.6 324.4 849.0 325.9 850.4 327.3 851.8 328.8 853.2 330.3 854.5 331.8 855.9 333.3 857.2 334.8 858.6 336.3 859.9 337.8 861.3 339.2 862.7 340.6 864.2 341.9 865.7 343.3 867.2 344.6 868.7 345.9 870.2 347.3 871.7 348.7 873.2 350.1 874.7 351.5 876.1 352.9 877.6 354.3 879.0 355.8 880.4 357.3 881.7 358.9 882.9 360.5 884.1 362.2 885.2 363.9 886.3 365.6 887.4 367.3 888.4 369.1 889.4 370.9 890.4 372.7 891.3 374.4 892.3 376.2 893.2 378.0 894.2 379.7 895.3 381.5 896.3 383.2 897.3 385.0 898.3 386.7 899.3 388.5 900.2 390.3 901.0 392.2 901.8 394.0 902.6 395.9 903.4 397.8 904.1 399.7 904.9 401.6 905.6 403.5 906.2 405.4 906.9 407.3 907.6 409.2 908.2 411.1 908.8 413.0 909.4 415.0 910.0 416.9 910.5 418.9 911.0 420.8 911.5 422.8 912.0 424.8 912.4 426.7 912.8 428.7 913.2 430.7 913.5 432.7 913.8 434.7 914.1 436.7 914.4 438.7 914.6 440.7 914.8 442.7 915.1 444.7 915.3 446.7 915.5 448.7 915.7 450.8 915.9 452.8 916.0 454.8 916.2 456.8 916.4 458.8 916.5 460.8 916.6 462.8 916.8 464.8 916.9 466.9 917.0 468.9 917.1 470.9 917.2 472.9 917.3 474.9 917.4 476.9 917.5 478.9 917.5 481.0 917.6 483.0 917.7 485.0 917.7 487.0 917.8 489.0 917.8 491.0 917.9 493.1 917.9 495.1 917.9 497.1 918.0 499.1 918.0 501.1 918.0 503.2 918.1 505.2 918.1 507.2 918.1 509.2 918.1 511.2 918.2 513.2 918.2 515.3 918.2 517.3 918.2 519.3 918.3 521.3 918.3 523.3 918.3 525.3 918.3 527.4 918.3 529.4 918.3 531.4 918.4 533.4 918.4 535.4 918.4 537.4 918.4 539.5 918.4 541.5 918.4 543.5 918.4" fill="none" stroke="#7E2F8E" stroke-width="4.2" stroke-linejoin="round"/>
</g>
<g id="panel5">
<rect x="732.9" y="549.0" width="478.3" height="369.4" fill="#fff" stroke="#262626" stroke-width="4.0"/>
<path d="M812.6 918.4v-6.8M812.6 549.0v6.8M972.0 918.4v-6.8M972.0 549.0v6.8M1131.5 918.4v-6.8M1131.5 549.0v6.8M732.9 795.3h6.8M1211.2 795.3h-6.8M732.9 672.1h6.8M1211.2 672.1h-6.8" stroke="#262626" stroke-width="4.0" fill="none"/>
<g font-family="Liberation Sans, sans-serif" font-weight="bold" font-size="31.25" fill="#262626" stroke="#262626" stroke-width="0.5">
<text x="812.6" y="959.1" text-anchor="middle">0.04</text>
<text x="972.0" y="959.1" text-anchor="middle">0.06</text>
<text x="1131.5" y="959.1" text-anchor="middle">0.08</text>
<text x="722.8" y="930.4" text-anchor="end">0</text>
<text x="722.8" y="807.3" text-anchor="end">100</text>
<text x="722.8" y="684.1" text-anchor="end">200</text>
<text x="722.8" y="561.0" text-anchor="end">300</text>
</g>
<text transform="translate(658.2 735.2) rotate(-90)" text-anchor="middle" font-family="Liberation Serif, serif" font-weight="bold" font-size="31.45" fill="#262626" stroke="#262626" stroke-width="0.25">Probability Density</text>
<text font-family="Liberation Serif, serif" fill="#262626"><tspan x="952.2" y="998.4" font-size="31.25" font-style="italic" stroke="#262626" stroke-width="0.9">σ</tspan><tspan x="971.8" y="1013.6" font-size="25" font-style="italic" stroke="#262626" stroke-width="0.8">θ</tspan><tspan x="985.0" y="1028.0" font-size="20" font-weight="bold">2</tspan></text>
<path d="M814.4 918.4 816.8 918.3 819.1 918.1 821.2 917.8 823.2 917.3 825.1 916.8 826.8 916.1 828.4 915.5 829.8 914.7 831.1 913.3 832.3 911.6 833.4 909.7 834.3 907.7 835.0 905.9 835.7 904.0 836.2 902.1 836.7 900.1 837.2 898.2 837.6 896.2 838.0 894.2 838.4 892.2 838.7 890.2 839.1 888.2 839.4 886.3 839.7 884.3 840.0 882.3 840.3 880.3 840.6 878.3 840.9 876.3 841.1 874.3 841.3 872.3 841.6 870.3 841.8 868.3 842.0 866.3 842.2 864.3 842.4 862.3 842.5 860.3 842.7 858.3 842.9 856.3 843.1 854.3 843.2 852.3 843.4 850.3 843.5 848.3 843.7 846.3 843.9 844.3 844.0 842.3 844.2 840.3 844.3 838.3 844.5 836.3 844.6 834.3 844.8 832.3 844.9 830.3 845.0 828.3 845.2 826.3 845.3 824.3 845.4 822.3 845.6 820.3 845.7 818.3 845.8 816.3 846.0 814.3 846.1 812.3 846.2 810.3 846.3 808.3 846.5 806.3 846.6 804.3 846.7 802.3 846.8 800.3 846.9 798.3 847.1 796.3 847.2 794.3 847.3 792.3 847.4 790.2 847.5 788.2 847.6 786.2 847.8 784.2 847.9 782.2 848.0 780.2 848.1 778.2 848.2 776.2 848.3 774.2 848.5 772.2 848.6 770.2 848.7 768.2 848.8 766.2 849.0 764.2 849.1 762.2 849.2 760.2 849.4 758.2 849.5 756.2 849.7 754.2 849.8 752.2 849.9 750.2 850.1 748.2 850.2 746.2 850.3 744.2 850.5 742.2 850.6 740.2 850.7 738.2 850.9 736.2 851.0 734.1 851.1 732.1 851.2 730.1 851.4 728.1 851.5 726.1 851.6 724.1 851.7 722.1 851.8 720.1 851.9 718.1 852.0 716.1 852.2 714.1 852.3 712.1 852.4 710.1 852.5 708.1 852.6 706.1 852.7 704.1 852.8 702.1 852.9 700.1 853.0 698.1 853.1 696.1 853.2 694.1 853.4 692.1 853.5 690.1 853.6 688.0 853.7 686.0 853.8 684.0 853.9 682.0 854.0 680.0 854.1 678.0 854.2 676.0 854.3 674.0 854.4 672.0 854.5 670.0 854.6 668.0 854.7 666.0 854.8 664.0 854.9 662.0 855.0 660.0 855.1 658.0 855.3 656.0 855.4 654.0 855.5 652.0 855.6 650.0 855.7 648.0 855.8 645.9 855.9 643.9 856.0 641.9 856.1 639.9 856.2 637.9 856.3 635.9 856.4 633.9 856.5 631.9 856.6 629.9 856.7 627.9 856.8 625.9 856.9 623.9 857.0 621.9 857.1 619.9 857.2 617.9 857.3 615.9 857.3 613.9 857.4 611.9 857.5 609.9 857.6 607.8 857.7 605.8 857.8 603.8 857.9 601.8 858.0 599.8 858.1 597.8 858.2 595.8 858.3 593.8 858.4 591.8 858.5 589.8 858.6 587.8 858.8 585.8 858.9 583.8 859.0 581.8 859.1 579.8 859.2 577.8 859.3 575.8 859.5 573.8 859.6 571.8 859.8 569.8 860.0 567.8 860.3 565.6 860.7 563.0 861.1 561.0 861.5 560.6 862.0 562.1 862.4 564.6 862.8 567.0 863.1 569.0 863.3 571.0 863.5 573.0 863.7 575.0 863.9 577.0 864.1 579.0 864.2 581.0 864.4 583.0 864.6 585.0 864.8 587.0 865.0 589.0 865.2 591.0 865.3 593.0 865.5 595.0 865.7 597.0 865.9 599.0 866.1 601.0 866.3 603.0 866.4 605.0 866.6 607.0 866.8 609.0 867.0 611.0 867.1 613.0 867.3 615.0 867.5 617.0 867.6 619.0 867.8 621.0 868.0 623.0 868.1 625.0 868.3 627.0 868.4 629.0 868.6 631.0 868.7 633.0 868.9 635.0 869.0 637.0 869.2 639.0 869.3 641.0 869.4 643.0 869.6 645.0 869.7 647.0 869.9 649.0 870.0 651.0 870.2 653.0 870.3 655.0 870.5 657.0 870.7 659.0 870.8 661.0 871.0 663.0 871.2 665.0 871.4 667.0 871.5 669.0 871.7 671.0 871.9 673.0 872.1 675.0 872.3 677.0 872.4 679.0 872.6 681.0 872.8 683.0 873.0 685.0 873.1 687.0 873.3 689.0 873.4 691.0 873.6 693.0 873.7 695.0 873.9 697.0 874.0 699.0 874.2 701.0 874.3 703.0 874.5 705.0 874.6 707.0 874.7 709.0 874.9 711.0 875.0 713.0 875.1 715.0 875.3 717.0 875.4 719.0 875.5 721.0 875.7 723.1 875.8 725.1 875.9 727.1 876.0 729.1 876.1 731.1 876.2 733.1 876.4 735.1 876.5 737.1 876.6 739.1 876.7 741.1 876.8 743.1 876.9 745.1 877.0 747.1 877.1 749.1 877.2 751.1 877.3 753.1 877.4 755.1 877.4 757.1 877.5 759.1 877.6 761.1 877.7 763.1 877.8 765.2 877.9 767.2 878.1 769.2 878.2 771.2 878.3 773.2 878.4 775.2 878.5 777.2 878.6 779.2 878.7 781.2 878.9 783.2 879.0 785.2 879.1 787.2 879.2 789.2 879.4 791.2 879.5 793.2 879.6 795.2 879.7 797.2 879.9 799.2 880.0 801.2 880.1 803.2 880.3 805.2 880.4 807.2 880.6 809.2 880.7 811.2 880.9 813.2 881.0 815.2 881.2 817.2 881.3 819.2 881.5 821.2 881.6 823.3 881.8 825.3 881.9 827.3 882.1 829.3 882.3 831.3 882.5 833.3 882.6 835.3 882.8 837.3 883.0 839.3 883.2 841.2 883.4 843.2 883.6 845.2 883.8 847.2 884.0 849.2 884.2 851.2 884.5 853.2 884.7 855.2 884.9 857.2 885.2 859.2 885.4 861.2 885.7 863.2 885.9 865.2 886.2 867.2 886.4 869.2 886.7 871.2 886.9 873.2 887.2 875.1 887.5 877.1 887.7 879.1 888.0 881.1 888.3 883.1 888.6 885.1 888.9 887.1 889.2 889.1 889.6 891.0 889.9 893.0 890.3 895.0 890.8 897.0 891.2 899.0 891.7 901.0 892.3 902.9 893.0 904.8 893.7 906.6 894.6 908.2 895.9 909.9 897.3 911.4 898.8 912.8 900.4 913.9 902.2 914.9 904.1 915.8 905.9 916.2 907.9 916.5 909.9 916.8 911.9 917.0 914.0 917.3 915.9 917.5 917.9 917.8 919.9 918.1 921.9 918.4" fill="none" stroke="#0072BD" stroke-width="4.2" stroke-linejoin="round"/>
<path d="M828.2 918.4 830.4 918.4 832.5 918.3 834.6 918.1 836.6 917.9 838.6 917.7 840.6 917.4 842.5 917.1 844.4 916.7 846.3 916.3 848.1 915.9 849.9 915.1 851.7 914.0 853.4 912.8 854.9 911.5 856.3 910.1 857.6 908.6 858.8 907.0 860.0 905.3 861.1 903.5 862.1 901.8 863.0 900.0 863.9 898.2 864.8 896.4 865.6 894.6 866.4 892.7 867.1 890.8 867.8 888.9 868.5 887.0 869.1 885.1 869.7 883.2 870.3 881.3 870.9 879.4 871.5 877.4 872.0 875.5 872.5 873.5 873.0 871.6 873.5 869.7 874.0 867.7 874.5 865.7 874.9 863.8 875.3 861.8 875.7 859.9 876.1 857.9 876.5 855.9 876.9 853.9 877.3 852.0 877.7 850.0 878.0 848.0 878.4 846.0 878.7 844.0 879.1 842.1 879.4 840.1 879.7 838.1 880.0 836.1 880.3 834.1 880.6 832.1 880.9 830.1 881.2 828.1 881.5 826.2 881.8 824.2 882.1 822.2 882.4 820.2 882.8 818.2 883.1 816.2 883.5 814.3 883.8 812.3 884.2 810.3 884.6 808.3 884.9 806.4 885.3 804.4 885.7 802.4 886.0 800.4 886.4 798.4 886.7 796.5 887.0 794.5 887.4 792.5 887.7 790.5 888.0 788.5 888.3 786.5 888.6 784.6 889.0 782.6 889.3 780.6 889.6 778.6 889.9 776.6 890.2 774.6 890.6 772.6 890.9 770.7 891.2 768.7 891.5 766.7 891.8 764.7 892.2 762.7 892.5 760.7 892.8 758.8 893.2 756.8 893.5 754.8 893.9 752.8 894.2 750.8 894.6 748.9 894.9 746.9 895.3 744.9 895.7 742.9 896.0 740.9 896.5 738.9 896.9 737.0 897.4 735.1 897.9 733.1 898.6 731.2 899.3 729.2 900.2 727.5 901.4 725.8 903.0 724.3 904.6 723.9 906.3 725.1 907.6 726.7 908.7 728.5 909.5 730.3 910.3 732.2 910.9 734.1 911.5 736.0 912.0 737.9 912.5 739.9 913.0 741.8 913.4 743.8 913.9 745.8 914.4 747.7 914.9 749.7 915.4 751.6 916.0 753.5 916.5 755.5 917.0 757.4 917.6 759.4 918.1 761.3 918.6 763.2 919.2 765.2 919.8 767.1 920.3 769.0 920.9 771.0 921.4 772.9 921.9 774.8 922.4 776.8 923.0 778.7 923.5 780.7 924.0 782.6 924.5 784.6 924.9 786.5 925.3 788.5 925.6 790.5 925.9 792.5 926.1 794.5 926.4 796.5 926.6 798.5 926.8 800.5 927.0 802.5 927.2 804.5 927.4 806.5 927.7 808.5 927.9 810.5 928.2 812.4 928.5 814.4 928.7 816.4 929.0 818.4 929.2 820.4 929.5 822.4 929.8 824.4 930.0 826.4 930.3 828.4 930.5 830.4 930.8 832.4 931.1 834.4 931.3 836.4 931.6 838.4 931.9 840.3 932.2 842.3 932.6 844.3 933.0 846.3 933.4 848.2 933.8 850.2 934.3 852.2 934.7 854.1 935.2 856.1 935.7 858.0 936.2 860.0 936.8 861.9 937.4 863.8 938.0 865.7 938.7 867.6 939.3 869.5 939.9 871.5 940.6 873.4 941.2 875.3 941.7 877.2 942.3 879.1 942.9 881.1 943.5 883.0 944.1 884.9 944.8 886.8 945.4 888.7 946.2 890.6 946.9 892.5 947.7 894.3 948.5 896.2 949.4 898.0 950.3 899.8 951.3 901.5 952.3 903.2 953.5 904.9 954.8 906.5 956.1 908.0 957.5 909.4 959.1 910.6 960.8 911.7 962.6 912.7 964.4 913.5 966.3 914.2 968.2 914.9 970.1 915.4 972.1 915.9 974.1 916.3 976.1 916.7 978.0 917.1 980.0 917.4 982.0 917.7 984.0 918.0 986.0 918.2 988.0 918.4" fill="none" stroke="#D95319" stroke-width="4.2" stroke-linejoin="round"/>
<path d="M796.0 918.4 798.1 918.2 800.2 917.9 802.2 917.5 804.1 917.0 806.0 916.4 807.9 915.7 809.7 915.0 811.4 914.2 813.2 913.1 814.9 911.9 816.5 910.6 817.9 909.2 819.2 907.8 820.4 906.2 821.5 904.5 822.5 902.7 823.5 900.9 824.4 899.1 825.3 897.3 826.2 895.5 827.0 893.7 827.8 891.8 828.5 889.9 829.3 888.1 830.1 886.2 830.9 884.4 831.7 882.5 832.5 880.7 833.4 878.9 834.3 877.1 835.3 875.3 836.2 873.5 837.1 871.7 837.9 869.9 838.8 868.1 839.6 866.3 840.4 864.4 841.2 862.6 842.0 860.7 842.8 858.9 843.5 857.0 844.2 855.1 844.9 853.2 845.5 851.3 846.2 849.4 846.8 847.5 847.4 845.6 848.0 843.6 848.6 841.7 849.1 839.8 849.6 837.8 850.1 835.9 850.6 834.0 851.1 832.0 851.5 830.0 851.9 828.1 852.3 826.1 852.7 824.1 853.2 822.2 853.6 820.2 854.0 818.2 854.5 816.3 854.9 814.3 855.4 812.3 855.8 810.4 856.3 808.4 856.8 806.4 857.3 804.5 857.8 802.6 858.3 800.6 858.9 798.7 859.6 796.8 860.3 794.9 861.1 793.0 861.9 791.2 862.8 789.4 863.7 787.6 864.7 785.9 865.8 784.2 867.0 782.4 868.4 780.8 869.8 779.5 871.3 778.4 873.1 777.4 875.0 776.5 877.0 776.0 879.0 775.9 881.0 776.4 883.0 777.1 884.5 777.9 885.8 779.4 887.0 781.2 888.0 783.1 888.8 784.9 889.6 786.7 890.3 788.6 891.0 790.5 891.6 792.4 892.2 794.4 892.8 796.3 893.4 798.3 894.0 800.2 894.7 802.1 895.3 804.0 895.9 805.9 896.6 807.8 897.2 809.7 897.8 811.6 898.5 813.5 899.1 815.4 899.8 817.3 900.5 819.2 901.2 821.1 901.9 823.0 902.6 824.9 903.3 826.7 904.0 828.6 904.7 830.5 905.4 832.4 906.1 834.3 906.7 836.2 907.3 838.1 908.0 840.0 908.6 841.9 909.2 843.8 909.9 845.7 910.5 847.7 911.2 849.6 911.8 851.5 912.4 853.4 913.0 855.3 913.6 857.2 914.3 859.1 914.9 861.0 915.6 862.9 916.2 864.8 916.9 866.7 917.6 868.6 918.2 870.5 918.9 872.4 919.7 874.3 920.4 876.2 921.2 878.0 922.1 879.8 923.0 881.6 924.0 883.3 925.1 885.1 926.1 886.8 927.3 888.4 928.4 890.1 929.6 891.6 930.9 893.2 932.2 894.8 933.5 896.3 934.8 897.8 936.1 899.4 937.3 901.1 938.6 902.6 939.9 904.2 941.3 905.5 942.9 906.7 944.5 907.8 946.3 908.9 948.1 909.8 949.9 910.7 951.7 911.6 953.6 912.4 955.5 913.2 957.4 913.8 959.3 914.3 961.2 914.7 963.2 915.1 965.2 915.4 967.2 915.7 969.2 915.9 971.2 916.2 973.2 916.4 975.2 916.6 977.2 916.8 979.2 916.9 981.2 917.1 983.2 917.2 985.2 917.4 987.2 917.5 989.2 917.6 991.3 917.8 993.3 917.9 995.3 918.0 997.3 918.1 999.3 918.2 1001.3 918.3 1003.3 918.4" fill="none" stroke="#EDB120" stroke-width="4.2" stroke-linejoin="round"/>
<path d="M784.8 918.4 786.8 918.4 788.9 918.4 790.9 918.4 792.9 918.3 794.9 918.3 796.9 918.2 798.9 918.1 801.0 918.1 803.0 918.0 805.0 917.9 807.0 917.8 809.0 917.7 811.0 917.6 813.0 917.5 815.0 917.4 817.0 917.2 819.0 917.1 821.0 916.8 823.1 916.6 825.1 916.3 827.1 915.9 829.0 915.5 831.0 915.1 832.9 914.6 834.8 913.9 836.7 913.2 838.5 912.3 840.4 911.4 842.2 910.5 843.9 909.6 845.7 908.6 847.4 907.6 849.1 906.5 850.8 905.4 852.5 904.2 854.1 903.0 855.8 901.9 857.4 900.7 859.1 899.5 860.7 898.3 862.3 897.1 863.9 895.8 865.4 894.5 866.8 893.1 868.2 891.7 869.5 890.2 870.8 888.6 872.1 887.0 873.3 885.4 874.5 883.8 875.8 882.2 877.0 880.6 878.2 879.0 879.3 877.3 880.5 875.7 881.6 874.0 882.8 872.4 884.0 870.7 885.1 869.1 886.3 867.4 887.4 865.8 888.6 864.1 889.7 862.5 890.9 860.8 892.1 859.2 893.3 857.5 894.4 855.9 895.7 854.3 896.9 852.7 898.1 851.1 899.3 849.5 900.6 847.9 901.8 846.3 903.1 844.8 904.4 843.2 905.7 841.7 907.1 840.2 908.4 838.7 909.8 837.2 911.2 835.8 912.6 834.2 914.0 832.7 915.4 831.3 917.0 830.1 918.6 829.1 920.5 828.2 922.5 827.5 924.4 827.3 926.4 827.4 928.5 827.7 930.4 828.1 932.4 828.6 934.3 829.3 936.2 830.0 938.0 830.9 939.7 831.9 941.4 833.0 943.0 834.2 944.6 835.5 946.1 836.9 947.6 838.2 949.0 839.7 950.4 841.1 951.7 842.6 953.1 844.1 954.5 845.6 955.8 847.1 957.2 848.6 958.5 850.1 959.9 851.6 961.2 853.1 962.6 854.6 963.9 856.1 965.3 857.6 966.6 859.1 967.9 860.6 969.3 862.1 970.6 863.6 972.0 865.1 973.4 866.6 974.8 868.0 976.2 869.5 977.6 870.9 979.0 872.3 980.5 873.7 981.9 875.1 983.4 876.4 985.0 877.7 986.5 879.0 988.1 880.3 989.7 881.5 991.3 882.7 992.9 883.9 994.6 885.0 996.3 886.1 998.0 887.2 999.7 888.3 1001.4 889.4 1003.1 890.5 1004.8 891.6 1006.5 892.6 1008.2 893.7 1009.9 894.8 1011.5 896.0 1013.2 897.2 1014.8 898.4 1016.4 899.6 1018.1 900.7 1019.8 901.8 1021.5 902.7 1023.3 903.7 1025.2 904.6 1027.0 905.4 1028.9 906.0 1030.8 906.6 1032.8 907.1 1034.7 907.6 1036.7 908.0 1038.7 908.5 1040.6 908.9 1042.6 909.4 1044.5 910.0 1046.5 910.5 1048.4 911.0 1050.4 911.6 1052.3 912.1 1054.3 912.6 1056.2 913.1 1058.2 913.6 1060.1 914.2 1062.1 914.8 1064.0 915.3 1066.0 915.7 1068.0 916.0 1070.0 916.2 1072.0 916.4 1074.0 916.6 1076.0 916.7 1078.0 916.8 1080.0 916.9 1082.0 917.0 1084.0 917.1 1086.1 917.2 1088.1 917.2 1090.1 917.3 1092.1 917.4 1094.1 917.4 1096.1 917.5 1098.2 917.5 1100.2 917.6 1102.2 917.6 1104.2 917.7 1106.2 917.7 1108.2 917.7 1110.2 917.8 1112.3 917.8 1114.3 917.8 1116.3 917.9 1118.3 917.9 1120.3 917.9 1122.3 917.9 1124.3 918.0 1126.4 918.0 1128.4 918.0 1130.4 918.0 1132.4 918.0 1134.4 918.0 1136.4 918.1 1138.5 918.1 1140.5 918.1 1142.5 918.1 1144.5 918.1 1146.5 918.1 1148.5 918.2 1150.5 918.2 1152.6 918.2 1154.6 918.2 1156.6 918.2 1158.6 918.2 1160.6 918.2 1162.6 918.2 1164.6 918.3 1166.7 918.3 1168.7 918.3 1170.7 918.3 1172.7 918.3 1174.7 918.3 1176.7 918.3 1178.8 918.3 1180.8 918.3 1182.8 918.3 1184.8 918.4 1186.8 918.4 1188.8 918.4 1190.8 918.4 1192.9 918.4 1194.9 918.4 1196.9 918.4 1198.9 918.4 1200.9 918.4 1202.9 918.4 1205.0 918.4 1207.0 918.4 1209.0 918.4 1211.0 918.4" fill="none" stroke="#7E2F8E" stroke-width="4.2" stroke-linejoin="round"/>
</g>
<g id="panel6">
<rect x="1369.9" y="549.0" width="478.3" height="369.4" fill="#fff" stroke="#262626" stroke-width="4.0"/>
<path d="M1449.6 918.4v-6.8M1449.6 549.0v6.8M1609.1 918.4v-6.8M1609.1 549.0v6.8M1768.5 918.4v-6.8M1768.5 549.0v6.8M1369.9 844.5h6.8M1848.2 844.5h-6.8M1369.9 770.6h6.8M1848.2 770.6h-6.8M1369.9 696.8h6.8M1848.2 696.8h-6.8M1369.9 622.9h6.8M1848.2 622.9h-6.8" stroke="#262626" stroke-width="4.0" fill="none"/>
<g font-family="Liberation Sans, sans-serif" font-weight="bold" font-size="31.25" fill="#262626" stroke="#262626" stroke-width="0.5">
<text x="1449.6" y="959.1" text-anchor="middle">0.04</text>
<text x="1609.1" y="959.1" text-anchor="middle">0.06</text>
<text x="1768.5" y="959.1" text-anchor="middle">0.08</text>
<text x="1359.8" y="930.4" text-anchor="end">0</text>
<text x="1359.8" y="856.5" text-anchor="end">50</text>
<text x="1359.8" y="782.6" text-anchor="end">100</text>
<text x="1359.8" y="708.8" text-anchor="end">150</text>
<text x="1359.8" y="634.9" text-anchor="end">200</text>
</g>
<text transform="translate(1295.2 735.2) rotate(-90)" text-anchor="middle" font-family="Liberation Serif, serif" font-weight="bold" font-size="31.45" fill="#262626" stroke="#262626" stroke-width="0.25">Probability Density</text>
<text font-family="Liberation Serif, serif" fill="#262626"><tspan x="1589.3" y="998.4" font-size="31.25" font-style="italic" stroke="#262626" stroke-width="0.9">σ</tspan><tspan x="1608.8" y="1013.6" font-size="25" font-style="italic" stroke="#262626" stroke-width="0.8">θ</tspan><tspan x="1622.0" y="1028.0" font-size="20" font-weight="bold">3</tspan></text>
<path d="M1453.6 918.4 1455.9 918.1 1458.0 917.6 1459.9 916.9 1461.7 916.0 1463.4 915.1 1464.8 914.0 1466.1 912.7 1467.3 911.0 1468.3 909.1 1469.1 907.2 1469.8 905.4 1470.4 903.5 1470.9 901.6 1471.4 899.6 1471.9 897.6 1472.3 895.6 1472.7 893.7 1473.1 891.7 1473.4 889.7 1473.8 887.7 1474.1 885.8 1474.4 883.8 1474.7 881.8 1475.0 879.8 1475.2 877.8 1475.5 875.8 1475.8 873.8 1476.0 871.8 1476.3 869.9 1476.5 867.9 1476.7 865.9 1477.0 863.9 1477.2 861.9 1477.4 859.9 1477.6 857.9 1477.8 855.9 1478.0 853.9 1478.2 851.9 1478.4 849.9 1478.6 847.9 1478.7 845.9 1478.9 843.9 1479.1 841.9 1479.2 839.9 1479.3 837.9 1479.5 835.9 1479.6 833.9 1479.8 831.9 1479.9 829.9 1480.0 827.9 1480.1 825.9 1480.3 823.9 1480.4 821.9 1480.5 819.9 1480.6 817.9 1480.8 815.9 1480.9 813.9 1481.0 811.9 1481.1 809.9 1481.2 807.9 1481.3 805.9 1481.5 803.9 1481.6 801.9 1481.7 799.9 1481.8 797.9 1481.9 795.9 1482.0 793.9 1482.1 791.9 1482.2 789.9 1482.3 787.9 1482.4 785.8 1482.5 783.8 1482.6 781.8 1482.7 779.8 1482.8 777.8 1482.9 775.8 1483.0 773.8 1483.1 771.8 1483.2 769.8 1483.3 767.8 1483.4 765.8 1483.5 763.8 1483.6 761.8 1483.7 759.8 1483.8 757.8 1483.9 755.8 1484.0 753.8 1484.1 751.8 1484.2 749.8 1484.3 747.8 1484.4 745.8 1484.5 743.8 1484.7 741.8 1484.8 739.8 1484.9 737.8 1485.0 735.8 1485.1 733.8 1485.2 731.8 1485.3 729.8 1485.4 727.8 1485.5 725.7 1485.6 723.7 1485.7 721.7 1485.8 719.7 1485.9 717.7 1486.0 715.7 1486.1 713.7 1486.1 711.7 1486.2 709.7 1486.3 707.7 1486.4 705.7 1486.5 703.7 1486.6 701.7 1486.7 699.7 1486.8 697.7 1486.9 695.7 1487.0 693.7 1487.1 691.7 1487.2 689.7 1487.3 687.7 1487.4 685.7 1487.5 683.7 1487.6 681.7 1487.7 679.7 1487.8 677.7 1487.9 675.7 1488.0 673.7 1488.1 671.6 1488.2 669.6 1488.3 667.6 1488.4 665.6 1488.5 663.6 1488.6 661.6 1488.7 659.6 1488.8 657.6 1488.9 655.6 1489.0 653.6 1489.1 651.6 1489.2 649.6 1489.3 647.6 1489.4 645.6 1489.5 643.6 1489.6 641.6 1489.7 639.6 1489.8 637.6 1489.9 635.6 1490.0 633.6 1490.1 631.6 1490.2 629.6 1490.3 627.6 1490.4 625.6 1490.5 623.6 1490.7 621.6 1490.8 619.6 1490.9 617.6 1491.1 615.6 1491.2 613.6 1491.3 611.6 1491.5 609.6 1491.7 607.6 1491.8 605.6 1492.0 603.6 1492.2 601.6 1492.3 599.6 1492.5 597.6 1492.7 595.6 1492.9 593.6 1493.2 591.6 1493.4 589.6 1493.7 587.6 1494.0 585.6 1494.3 583.6 1494.6 581.6 1494.9 579.7 1495.3 577.7 1495.7 575.7 1496.0 573.7 1496.4 571.7 1496.9 569.8 1497.5 567.9 1498.2 565.9 1499.3 563.9 1500.5 563.4 1502.0 564.9 1503.2 566.9 1503.8 568.7 1504.4 570.6 1504.9 572.6 1505.3 574.6 1505.6 576.6 1505.9 578.6 1506.2 580.6 1506.5 582.5 1506.8 584.5 1507.0 586.5 1507.3 588.5 1507.5 590.5 1507.7 592.5 1507.8 594.5 1508.0 596.5 1508.2 598.5 1508.3 600.5 1508.5 602.5 1508.6 604.5 1508.7 606.5 1508.8 608.5 1509.0 610.5 1509.1 612.5 1509.2 614.5 1509.3 616.5 1509.4 618.5 1509.6 620.5 1509.7 622.6 1509.8 624.6 1510.0 626.6 1510.1 628.6 1510.2 630.6 1510.3 632.6 1510.5 634.6 1510.6 636.6 1510.7 638.6 1510.8 640.6 1511.0 642.6 1511.1 644.6 1511.2 646.6 1511.3 648.6 1511.4 650.6 1511.6 652.6 1511.7 654.6 1511.8 656.6 1511.9 658.6 1512.0 660.6 1512.1 662.6 1512.2 664.6 1512.3 666.6 1512.4 668.6 1512.5 670.6 1512.6 672.6 1512.7 674.6 1512.8 676.6 1512.9 678.6 1513.0 680.6 1513.1 682.6 1513.2 684.6 1513.3 686.6 1513.4 688.6 1513.5 690.6 1513.6 692.7 1513.7 694.7 1513.8 696.7 1513.9 698.7 1513.9 700.7 1514.0 702.7 1514.1 704.7 1514.2 706.7 1514.3 708.7 1514.3 710.7 1514.4 712.7 1514.5 714.7 1514.6 716.7 1514.7 718.7 1514.7 720.7 1514.8 722.7 1514.9 724.7 1515.0 726.7 1515.1 728.7 1515.2 730.7 1515.3 732.7 1515.4 734.7 1515.6 736.7 1515.7 738.7 1515.8 740.7 1516.0 742.7 1516.1 744.7 1516.3 746.7 1516.5 748.7 1516.6 750.7 1516.8 752.7 1517.0 754.7 1517.1 756.7 1517.3 758.7 1517.4 760.7 1517.5 762.7 1517.7 764.7 1517.8 766.7 1517.9 768.7 1518.1 770.7 1518.2 772.7 1518.3 774.8 1518.4 776.8 1518.6 778.8 1518.7 780.8 1518.8 782.8 1518.9 784.8 1519.1 786.8 1519.2 788.8 1519.3 790.8 1519.5 792.8 1519.6 794.8 1519.7 796.8 1519.9 798.8 1520.0 800.8 1520.2 802.8 1520.3 804.8 1520.5 806.8 1520.6 808.8 1520.8 810.8 1521.0 812.8 1521.1 814.8 1521.3 816.8 1521.4 818.8 1521.6 820.8 1521.8 822.8 1522.0 824.8 1522.1 826.8 1522.3 828.8 1522.5 830.8 1522.7 832.8 1522.9 834.8 1523.1 836.7 1523.3 838.7 1523.5 840.7 1523.7 842.7 1524.0 844.7 1524.2 846.7 1524.4 848.7 1524.6 850.7 1524.9 852.7 1525.1 854.7 1525.4 856.7 1525.6 858.7 1525.9 860.7 1526.1 862.6 1526.4 864.6 1526.7 866.6 1526.9 868.6 1527.2 870.6 1527.5 872.6 1527.7 874.6 1528.0 876.6 1528.3 878.6 1528.6 880.6 1528.9 882.6 1529.2 884.5 1529.6 886.5 1530.0 888.5 1530.4 890.4 1530.8 892.4 1531.3 894.3 1531.8 896.3 1532.4 898.2 1533.1 900.1 1533.7 902.0 1534.5 903.9 1535.2 905.7 1536.1 907.6 1537.1 909.5 1538.1 911.3 1539.3 912.9 1540.6 914.2 1542.0 915.3 1543.7 916.3 1545.6 917.1 1547.6 917.9 1549.7 918.4" fill="none" stroke="#0072BD" stroke-width="4.2" stroke-linejoin="round"/>
<path d="M1471.2 918.4 1473.3 918.3 1475.4 918.0 1477.4 917.7 1479.3 917.2 1481.2 916.6 1483.1 916.0 1484.9 915.3 1486.7 914.4 1488.5 913.2 1490.0 911.9 1491.4 910.6 1492.6 909.0 1493.8 907.3 1494.8 905.5 1495.8 903.7 1496.7 902.0 1497.5 900.1 1498.3 898.3 1499.0 896.4 1499.7 894.5 1500.3 892.6 1501.0 890.6 1501.6 888.7 1502.1 886.8 1502.7 884.9 1503.2 882.9 1503.7 881.0 1504.2 879.0 1504.7 877.1 1505.1 875.1 1505.6 873.1 1506.0 871.2 1506.4 869.2 1506.9 867.2 1507.3 865.3 1507.7 863.3 1508.1 861.3 1508.5 859.3 1508.9 857.4 1509.3 855.4 1509.6 853.4 1510.0 851.4 1510.3 849.4 1510.6 847.5 1510.9 845.5 1511.2 843.5 1511.5 841.5 1511.8 839.5 1512.1 837.5 1512.3 835.5 1512.6 833.5 1512.9 831.5 1513.1 829.5 1513.4 827.5 1513.7 825.5 1514.0 823.5 1514.2 821.5 1514.5 819.5 1514.8 817.6 1515.0 815.6 1515.3 813.6 1515.6 811.6 1515.8 809.6 1516.1 807.6 1516.4 805.6 1516.6 803.6 1516.9 801.6 1517.1 799.6 1517.4 797.6 1517.7 795.6 1517.9 793.6 1518.2 791.6 1518.5 789.6 1518.7 787.6 1519.0 785.6 1519.3 783.6 1519.5 781.6 1519.8 779.6 1520.1 777.6 1520.3 775.7 1520.6 773.7 1520.9 771.7 1521.1 769.7 1521.4 767.7 1521.7 765.7 1522.0 763.7 1522.2 761.7 1522.5 759.7 1522.8 757.7 1523.1 755.7 1523.3 753.7 1523.6 751.7 1523.9 749.7 1524.2 747.7 1524.5 745.8 1524.8 743.8 1525.1 741.8 1525.5 739.8 1525.8 737.8 1526.1 735.8 1526.4 733.8 1526.7 731.8 1527.0 729.8 1527.3 727.9 1527.6 725.9 1527.8 723.9 1528.1 721.9 1528.4 719.9 1528.7 717.9 1529.0 715.9 1529.3 713.9 1529.6 711.9 1530.0 709.9 1530.4 708.0 1530.8 706.0 1531.2 704.0 1531.6 702.1 1532.1 700.1 1532.6 698.1 1533.1 696.2 1533.6 694.1 1534.1 692.0 1534.7 690.2 1535.8 688.8 1537.6 687.6 1539.5 687.6 1541.5 688.6 1542.8 689.9 1543.7 691.5 1544.5 693.5 1545.2 695.6 1545.8 697.5 1546.5 699.4 1547.1 701.3 1547.6 703.3 1548.2 705.2 1548.7 707.2 1549.2 709.1 1549.6 711.1 1550.0 713.0 1550.4 715.0 1550.7 717.0 1551.1 719.0 1551.4 721.0 1551.7 722.9 1552.0 724.9 1552.3 726.9 1552.6 728.9 1552.9 730.9 1553.2 732.9 1553.5 734.9 1553.9 736.9 1554.2 738.9 1554.5 740.9 1554.8 742.8 1555.1 744.8 1555.4 746.8 1555.8 748.8 1556.1 750.8 1556.4 752.8 1556.7 754.8 1557.1 756.8 1557.4 758.7 1557.7 760.7 1558.1 762.7 1558.4 764.7 1558.7 766.7 1559.1 768.7 1559.4 770.6 1559.7 772.6 1560.0 774.6 1560.4 776.6 1560.7 778.6 1561.0 780.6 1561.3 782.6 1561.6 784.6 1561.9 786.6 1562.2 788.5 1562.5 790.5 1562.8 792.5 1563.1 794.5 1563.4 796.5 1563.7 798.5 1564.0 800.5 1564.3 802.5 1564.5 804.5 1564.8 806.5 1565.1 808.5 1565.3 810.5 1565.6 812.5 1565.9 814.4 1566.2 816.4 1566.5 818.4 1566.8 820.4 1567.1 822.4 1567.4 824.4 1567.7 826.4 1568.0 828.4 1568.3 830.4 1568.7 832.3 1569.0 834.3 1569.4 836.3 1569.8 838.3 1570.2 840.2 1570.6 842.2 1571.1 844.2 1571.6 846.1 1572.0 848.1 1572.5 850.1 1573.0 852.0 1573.5 854.0 1574.0 855.9 1574.5 857.9 1575.0 859.8 1575.5 861.7 1576.1 863.7 1576.7 865.6 1577.3 867.5 1577.9 869.4 1578.6 871.3 1579.3 873.2 1580.0 875.1 1580.7 877.0 1581.5 878.9 1582.2 880.7 1583.0 882.6 1583.7 884.5 1584.4 886.3 1585.2 888.2 1585.9 890.1 1586.7 891.9 1587.6 893.8 1588.4 895.6 1589.4 897.4 1590.3 899.1 1591.4 900.9 1592.4 902.6 1593.6 904.2 1594.8 905.8 1596.1 907.4 1597.5 908.9 1599.0 910.4 1600.5 911.6 1602.1 912.7 1603.9 913.6 1605.7 914.4 1607.7 915.1 1609.6 915.7 1611.6 916.2 1613.5 916.7 1615.5 917.1 1617.4 917.5 1619.4 917.8 1621.4 918.1 1623.5 918.3 1625.5 918.4" fill="none" stroke="#D95319" stroke-width="4.2" stroke-linejoin="round"/>
<path d="M1409.2 918.4 1411.3 918.4 1413.3 918.4 1415.3 918.3 1417.4 918.2 1419.4 918.1 1421.4 918.0 1423.4 917.9 1425.5 917.8 1427.5 917.6 1429.4 917.4 1431.4 917.2 1433.4 917.0 1435.4 916.8 1437.4 916.6 1439.3 916.4 1441.3 916.0 1443.4 915.6 1445.4 915.1 1447.3 914.4 1449.2 913.7 1450.9 912.9 1452.5 911.8 1454.1 910.5 1455.6 909.0 1457.0 907.5 1458.1 905.9 1459.2 904.3 1460.2 902.5 1461.1 900.7 1462.0 898.9 1462.8 897.0 1463.6 895.1 1464.4 893.2 1465.2 891.4 1466.0 889.5 1466.7 887.6 1467.4 885.8 1468.1 883.9 1468.8 882.0 1469.4 880.0 1470.1 878.1 1470.7 876.2 1471.3 874.3 1471.9 872.4 1472.5 870.5 1473.1 868.5 1473.6 866.6 1474.2 864.6 1474.7 862.7 1475.2 860.8 1475.8 858.8 1476.3 856.9 1476.9 854.9 1477.4 853.0 1478.0 851.1 1478.5 849.1 1479.0 847.2 1479.6 845.2 1480.1 843.3 1480.6 841.3 1481.1 839.4 1481.5 837.4 1482.0 835.5 1482.4 833.5 1482.8 831.5 1483.3 829.5 1483.7 827.6 1484.1 825.6 1484.5 823.6 1484.9 821.7 1485.3 819.7 1485.7 817.7 1486.1 815.7 1486.5 813.8 1486.9 811.8 1487.3 809.8 1487.7 807.8 1488.1 805.8 1488.4 803.9 1488.8 801.9 1489.3 799.9 1489.7 797.9 1490.1 796.0 1490.6 794.0 1491.1 792.1 1491.6 790.1 1492.1 788.2 1492.6 786.2 1493.2 784.3 1493.8 782.3 1494.4 780.4 1495.0 778.5 1495.7 776.6 1496.4 774.7 1497.1 772.9 1497.9 771.0 1498.7 769.1 1499.6 767.3 1500.5 765.5 1501.5 763.8 1502.6 762.1 1503.8 760.3 1505.1 758.7 1506.6 757.4 1508.2 756.4 1510.1 755.5 1512.1 754.9 1514.0 754.9 1516.0 755.4 1517.9 756.3 1519.6 757.3 1521.2 758.5 1522.7 759.9 1524.0 761.5 1525.2 763.1 1526.2 764.8 1527.1 766.6 1528.0 768.5 1528.8 770.3 1529.6 772.2 1530.2 774.1 1530.9 776.0 1531.5 777.9 1532.1 779.9 1532.6 781.8 1533.2 783.7 1533.7 785.7 1534.3 787.6 1534.8 789.6 1535.4 791.5 1535.9 793.5 1536.4 795.4 1537.0 797.3 1537.5 799.3 1538.0 801.2 1538.6 803.2 1539.2 805.1 1539.8 807.0 1540.4 808.9 1541.0 810.8 1541.6 812.8 1542.2 814.7 1542.9 816.6 1543.5 818.5 1544.1 820.4 1544.7 822.4 1545.3 824.3 1545.9 826.2 1546.5 828.1 1547.1 830.1 1547.7 832.0 1548.2 833.9 1548.8 835.9 1549.3 837.8 1549.8 839.8 1550.3 841.7 1550.8 843.6 1551.4 845.6 1551.9 847.5 1552.5 849.5 1553.1 851.4 1553.7 853.3 1554.3 855.2 1554.9 857.1 1555.6 859.0 1556.2 861.0 1556.9 862.9 1557.6 864.7 1558.3 866.7 1558.9 868.6 1559.6 870.5 1560.3 872.4 1561.1 874.2 1561.9 876.1 1562.7 877.9 1563.7 879.6 1564.8 881.3 1566.0 883.0 1567.1 884.6 1568.3 886.3 1569.5 887.9 1570.7 889.5 1571.9 891.1 1573.1 892.7 1574.4 894.3 1575.7 895.9 1576.9 897.4 1578.2 899.0 1579.5 900.5 1580.9 902.0 1582.3 903.5 1583.8 904.8 1585.3 906.1 1587.0 907.3 1588.6 908.5 1590.4 909.5 1592.1 910.4 1594.0 911.3 1595.9 912.0 1597.8 912.7 1599.7 913.2 1601.7 913.6 1603.6 913.9 1605.6 914.2 1607.6 914.5 1609.7 914.7 1611.7 915.0 1613.7 915.2 1615.7 915.5 1617.7 915.8 1619.7 916.1 1621.7 916.4 1623.7 916.6 1625.7 916.9 1627.7 917.1 1629.7 917.2 1631.7 917.3 1633.7 917.4 1635.7 917.5 1637.7 917.6 1639.7 917.6 1641.7 917.7 1643.7 917.8 1645.7 917.9 1647.7 917.9 1649.8 918.0 1651.8 918.0 1653.8 918.1 1655.8 918.1 1657.8 918.2 1659.8 918.2 1661.8 918.3 1663.9 918.3 1665.9 918.3 1667.9 918.3 1669.9 918.4 1671.9 918.4 1674.0 918.4 1676.0 918.4 1678.0 918.4" fill="none" stroke="#EDB120" stroke-width="4.2" stroke-linejoin="round"/>
<path d="M1422.2 918.4 1424.2 918.4 1426.3 918.4 1428.3 918.4 1430.3 918.3 1432.3 918.3 1434.3 918.3 1436.4 918.2 1438.4 918.2 1440.4 918.1 1442.4 918.1 1444.4 918.0 1446.4 917.9 1448.4 917.8 1450.4 917.8 1452.4 917.7 1454.4 917.6 1456.3 917.4 1458.3 917.2 1460.3 916.9 1462.3 916.5 1464.3 916.1 1466.3 915.6 1468.2 915.2 1470.1 914.6 1472.1 914.0 1474.0 913.4 1475.9 912.7 1477.7 911.9 1479.6 911.1 1481.4 910.3 1483.1 909.3 1484.9 908.3 1486.6 907.3 1488.3 906.1 1489.9 905.0 1491.5 903.8 1493.1 902.5 1494.7 901.3 1496.2 900.0 1497.7 898.6 1499.2 897.3 1500.7 895.9 1502.1 894.4 1503.5 893.0 1504.9 891.5 1506.2 890.1 1507.5 888.5 1508.8 887.0 1510.1 885.4 1511.3 883.8 1512.5 882.2 1513.8 880.6 1514.9 879.0 1516.1 877.4 1517.3 875.8 1518.4 874.1 1519.6 872.4 1520.7 870.8 1521.8 869.1 1523.0 867.5 1524.1 865.8 1525.2 864.1 1526.3 862.5 1527.4 860.8 1528.5 859.1 1529.6 857.4 1530.8 855.8 1531.9 854.1 1533.0 852.4 1534.1 850.7 1535.2 849.1 1536.4 847.4 1537.5 845.8 1538.6 844.1 1539.8 842.4 1540.9 840.7 1542.1 839.1 1543.3 837.5 1544.6 836.0 1545.9 834.4 1547.2 832.8 1548.7 831.4 1550.2 830.1 1551.8 829.0 1553.5 828.1 1555.4 827.3 1557.4 826.7 1559.3 826.2 1561.3 826.0 1563.3 825.7 1565.3 825.5 1567.3 825.4 1569.3 825.4 1571.3 825.7 1573.3 826.2 1575.2 826.7 1577.2 827.2 1579.1 827.8 1581.0 828.5 1582.9 829.2 1584.7 830.0 1586.6 830.7 1588.5 831.3 1590.5 831.9 1592.4 832.5 1594.3 833.1 1596.2 833.7 1598.1 834.4 1600.0 835.0 1601.9 835.7 1603.8 836.5 1605.5 837.4 1607.2 838.4 1608.9 839.6 1610.5 840.9 1612.0 842.2 1613.5 843.5 1614.9 844.9 1616.3 846.4 1617.7 847.9 1619.0 849.4 1620.2 851.0 1621.4 852.6 1622.6 854.2 1623.7 855.9 1624.8 857.6 1625.9 859.3 1627.1 860.9 1628.3 862.6 1629.5 864.2 1630.7 865.8 1631.9 867.4 1633.2 868.9 1634.4 870.5 1635.7 872.0 1637.1 873.5 1638.4 875.0 1639.7 876.5 1641.1 878.0 1642.5 879.5 1643.9 880.9 1645.3 882.3 1646.8 883.7 1648.2 885.1 1649.7 886.5 1651.2 887.8 1652.7 889.1 1654.3 890.4 1655.9 891.6 1657.5 892.8 1659.2 893.9 1660.8 895.1 1662.5 896.1 1664.3 897.1 1666.0 898.1 1667.8 899.1 1669.6 900.0 1671.4 900.9 1673.2 901.7 1675.0 902.6 1676.9 903.4 1678.7 904.2 1680.6 904.9 1682.5 905.5 1684.4 906.1 1686.3 906.7 1688.3 907.2 1690.2 907.7 1692.2 908.1 1694.2 908.5 1696.2 908.8 1698.1 909.2 1700.1 909.5 1702.1 909.9 1704.1 910.2 1706.1 910.6 1708.0 911.0 1710.0 911.4 1712.0 911.8 1713.9 912.1 1715.9 912.5 1717.9 912.9 1719.9 913.2 1721.9 913.6 1723.8 913.9 1725.8 914.2 1727.8 914.5 1729.8 914.7 1731.8 915.0 1733.8 915.2 1735.8 915.5 1737.8 915.7 1739.8 915.9 1741.8 916.1 1743.8 916.3 1745.8 916.5 1747.8 916.7 1749.8 916.9 1751.8 917.0 1753.8 917.2 1755.8 917.3 1757.8 917.5 1759.8 917.6 1761.8 917.6 1763.8 917.7 1765.8 917.8 1767.8 917.9 1769.9 917.9 1771.9 918.0 1773.9 918.0 1775.9 918.1 1777.9 918.1 1779.9 918.1 1781.9 918.2 1783.9 918.2 1785.9 918.2 1787.9 918.2 1790.0 918.2 1792.0 918.2 1794.0 918.3 1796.0 918.3 1798.0 918.3 1800.0 918.3 1802.0 918.3 1804.0 918.3 1806.0 918.3 1808.0 918.3 1810.0 918.3 1812.1 918.3 1814.1 918.4 1816.1 918.4 1818.1 918.4 1820.1 918.4 1822.1 918.4 1824.1 918.4 1826.1 918.4 1828.1 918.4 1830.1 918.4 1832.2 918.4 1834.2 918.4 1836.2 918.4 1838.2 918.4 1840.2 918.4 1842.2 918.4" fill="none" stroke="#7E2F8E" stroke-width="4.2" stroke-linejoin="round"/>
</g>
<g id="legend">
<rect x="1147.5" y="362.4" width="261.9" height="225.6" fill="#fff" stroke="#262626" stroke-width="4.2"/>
<path d="M1186.5 392.1H1234.1" stroke="#0072BD" stroke-width="4" fill="none"/>
<text font-family="Liberation Sans, sans-serif" font-weight="bold" fill="#000" stroke="#000" stroke-width="0.45"><tspan x="1237.5" y="397.1" font-size="31" font-style="italic">N</tspan><tspan x="1261.5" y="412.4" font-size="24.5" font-style="italic">D</tspan><tspan x="1289.5" y="397.5" font-size="31">= 500</tspan></text>
<path d="M1186.5 447.4H1234.1" stroke="#D95319" stroke-width="4" fill="none"/>
<text font-family="Liberation Sans, sans-serif" font-weight="bold" fill="#000" stroke="#000" stroke-width="0.45"><tspan x="1237.5" y="452.4" font-size="31" font-style="italic">N</tspan><tspan x="1261.5" y="467.7" font-size="24.5" font-style="italic">D</tspan><tspan x="1289.5" y="452.8" font-size="31">= 200</tspan></text>
<path d="M1186.5 502.8H1234.1" stroke="#EDB120" stroke-width="4" fill="none"/>
<text font-family="Liberation Sans, sans-serif" font-weight="bold" fill="#000" stroke="#000" stroke-width="0.45"><tspan x="1237.5" y="507.8" font-size="31" font-style="italic">N</tspan><tspan x="1261.5" y="523.1" font-size="24.5" font-style="italic">D</tspan><tspan x="1289.5" y="508.2" font-size="31">= 100</tspan></text>
<path d="M1186.5 558.0H1234.1" stroke="#7E2F8E" stroke-width="4" fill="none"/>
<text font-family="Liberation Sans, sans-serif" font-weight="bold" fill="#000" stroke="#000" stroke-width="0.45"><tspan x="1237.5" y="563.0" font-size="31" font-style="italic">N</tspan><tspan x="1261.5" y="578.3" font-size="24.5" font-style="italic">D</tspan><tspan x="1289.5" y="563.4" font-size="31">= 50</tspan></text>
</g>
</svg>
</body></html>
